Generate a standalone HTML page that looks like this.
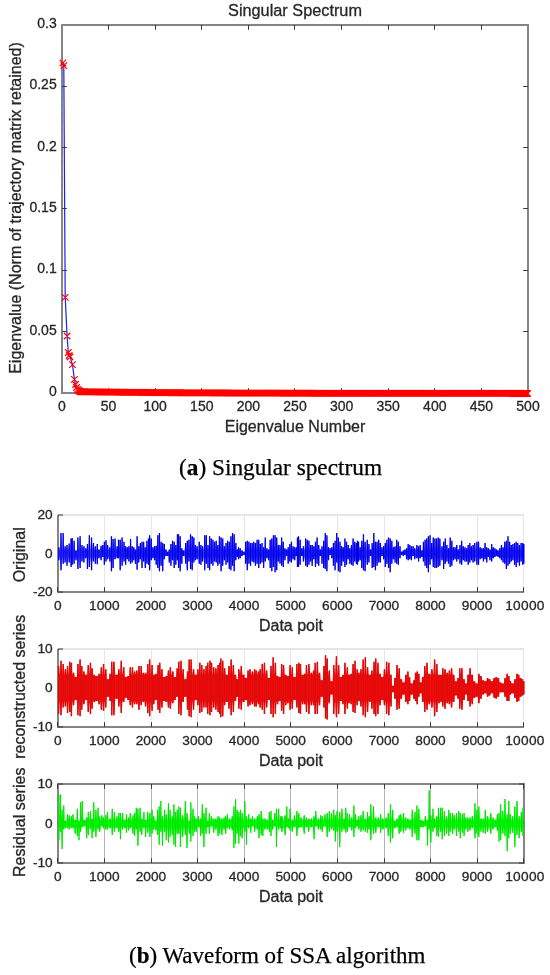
<!DOCTYPE html>
<html><head><meta charset="utf-8"><style>html,body{margin:0;padding:0;background:#fff;}svg{display:block;}text.s{stroke:#2a2a2a;stroke-width:0.3px;}text.c{stroke:#000;stroke-width:0.25px;}</style></head>
<body><svg width="550" height="975" viewBox="0 0 550 975" font-family="'Liberation Sans', Arial, Helvetica, sans-serif"><text x="295" y="15.6" font-size="16.3" text-anchor="middle" fill="#262626" class="s">Singular Spectrum</text>
<rect x="62.0" y="25.0" width="466.0" height="368.0" fill="none" stroke="#858585" stroke-width="2"/>
<text x="62.00" y="410.6" font-size="14" text-anchor="middle" fill="#262626" class="s">0</text>
<text x="108.60" y="410.6" font-size="14" text-anchor="middle" fill="#262626" class="s">50</text>
<text x="155.20" y="410.6" font-size="14" text-anchor="middle" fill="#262626" class="s">100</text>
<text x="201.80" y="410.6" font-size="14" text-anchor="middle" fill="#262626" class="s">150</text>
<text x="248.40" y="410.6" font-size="14" text-anchor="middle" fill="#262626" class="s">200</text>
<text x="295.00" y="410.6" font-size="14" text-anchor="middle" fill="#262626" class="s">250</text>
<text x="341.60" y="410.6" font-size="14" text-anchor="middle" fill="#262626" class="s">300</text>
<text x="388.20" y="410.6" font-size="14" text-anchor="middle" fill="#262626" class="s">350</text>
<text x="434.80" y="410.6" font-size="14" text-anchor="middle" fill="#262626" class="s">400</text>
<text x="481.40" y="410.6" font-size="14" text-anchor="middle" fill="#262626" class="s">450</text>
<text x="528.00" y="410.6" font-size="14" text-anchor="middle" fill="#262626" class="s">500</text>
<text x="56.7" y="396.10" font-size="14" text-anchor="end" fill="#262626" class="s">0</text>
<text x="56.7" y="334.77" font-size="14" text-anchor="end" fill="#262626" class="s">0.05</text>
<text x="56.7" y="273.43" font-size="14" text-anchor="end" fill="#262626" class="s">0.1</text>
<text x="56.7" y="212.10" font-size="14" text-anchor="end" fill="#262626" class="s">0.15</text>
<text x="56.7" y="150.77" font-size="14" text-anchor="end" fill="#262626" class="s">0.2</text>
<text x="56.7" y="89.43" font-size="14" text-anchor="end" fill="#262626" class="s">0.25</text>
<text x="56.7" y="28.10" font-size="14" text-anchor="end" fill="#262626" class="s">0.3</text>
<path d="M108.50,393.0V388.2M108.50,25.0V29.8M155.50,393.0V388.2M155.50,25.0V29.8M201.50,393.0V388.2M201.50,25.0V29.8M248.50,393.0V388.2M248.50,25.0V29.8M294.50,393.0V388.2M294.50,25.0V29.8M341.50,393.0V388.2M341.50,25.0V29.8M388.50,393.0V388.2M388.50,25.0V29.8M434.50,393.0V388.2M434.50,25.0V29.8M481.50,393.0V388.2M481.50,25.0V29.8M62.0,331.50H66.8M528.0,331.50H523.2M62.0,270.50H66.8M528.0,270.50H523.2M62.0,208.50H66.8M528.0,208.50H523.2M62.0,147.50H66.8M528.0,147.50H523.2M62.0,86.50H66.8M528.0,86.50H523.2" stroke="#3a3a3a" stroke-width="1" fill="none"/>
<text x="295" y="431.5" font-size="16.0" text-anchor="middle" fill="#262626" class="s">Eigenvalue Number</text>
<text transform="translate(21.4,208.0) rotate(-90)" x="0" y="0" font-size="16.0" text-anchor="middle" fill="#262626" class="s">Eigenvalue (Norm of trajectory matrix retained)</text>
<path d="M62.90,62.80 L63.80,65.60 L65.20,297.30 L67.10,336.00 L68.30,352.50 L69.20,355.50 L70.00,357.00 L72.50,364.70 L74.40,379.30 L75.50,384.50 L76.50,387.50 L77.40,389.30 L78.40,390.40 L79.30,391.00 L80.20,391.70 L81.13,391.72 L82.07,391.73 L83.00,391.75 L83.94,391.76 L84.87,391.78 L85.80,391.79 L86.74,391.81 L87.67,391.82 L88.61,391.84 L89.54,391.85 L90.47,391.86 L91.41,391.88 L92.34,391.89 L93.28,391.90 L94.21,391.92 L95.14,391.93 L96.08,391.94 L97.01,391.96 L97.95,391.97 L98.88,391.98 L99.81,392.00 L100.75,392.01 L101.68,392.02 L102.62,392.03 L103.55,392.05 L104.48,392.06 L105.42,392.07 L106.35,392.08 L107.29,392.10 L108.22,392.11 L109.15,392.12 L110.09,392.13 L111.02,392.14 L111.96,392.15 L112.89,392.17 L113.82,392.18 L114.76,392.19 L115.69,392.20 L116.63,392.21 L117.56,392.22 L118.49,392.23 L119.43,392.24 L120.36,392.25 L121.30,392.26 L122.23,392.27 L123.16,392.28 L124.10,392.29 L125.03,392.30 L125.97,392.31 L126.90,392.32 L127.83,392.33 L128.77,392.34 L129.70,392.35 L130.64,392.36 L131.57,392.37 L132.50,392.38 L133.44,392.39 L134.37,392.40 L135.31,392.41 L136.24,392.42 L137.17,392.43 L138.11,392.44 L139.04,392.45 L139.98,392.46 L140.91,392.47 L141.84,392.47 L142.78,392.48 L143.71,392.49 L144.65,392.50 L145.58,392.51 L146.51,392.52 L147.45,392.53 L148.38,392.53 L149.32,392.54 L150.25,392.55 L151.18,392.56 L152.12,392.57 L153.05,392.57 L153.99,392.58 L154.92,392.59 L155.85,392.60 L156.79,392.60 L157.72,392.61 L158.66,392.62 L159.59,392.63 L160.52,392.63 L161.46,392.64 L162.39,392.65 L163.33,392.66 L164.26,392.66 L165.19,392.67 L166.13,392.68 L167.06,392.68 L168.00,392.69 L168.93,392.70 L169.86,392.70 L170.80,392.71 L171.73,392.72 L172.67,392.72 L173.60,392.73 L174.53,392.74 L175.47,392.74 L176.40,392.75 L177.34,392.76 L178.27,392.76 L179.20,392.77 L180.14,392.78 L181.07,392.78 L182.01,392.79 L182.94,392.79 L183.87,392.80 L184.81,392.81 L185.74,392.81 L186.68,392.82 L187.61,392.82 L188.54,392.83 L189.48,392.83 L190.41,392.84 L191.35,392.85 L192.28,392.85 L193.21,392.86 L194.15,392.86 L195.08,392.87 L196.02,392.87 L196.95,392.88 L197.88,392.88 L198.82,392.89 L199.75,392.89 L200.69,392.90 L201.62,392.90 L202.55,392.91 L203.49,392.91 L204.42,392.92 L205.36,392.92 L206.29,392.93 L207.22,392.93 L208.16,392.94 L209.09,392.94 L210.03,392.95 L210.96,392.95 L211.89,392.96 L212.83,392.96 L213.76,392.97 L214.70,392.97 L215.63,392.98 L216.56,392.98 L217.50,392.98 L218.43,392.99 L219.37,392.99 L220.30,393.00 L221.23,393.00 L222.17,393.01 L223.10,393.01 L224.04,393.01 L224.97,393.02 L225.90,393.02 L226.84,393.03 L227.77,393.03 L228.71,393.03 L229.64,393.04 L230.57,393.04 L231.51,393.05 L232.44,393.05 L233.38,393.05 L234.31,393.06 L235.24,393.06 L236.18,393.06 L237.11,393.07 L238.05,393.07 L238.98,393.08 L239.91,393.08 L240.85,393.08 L241.78,393.09 L242.72,393.09 L243.65,393.09 L244.58,393.10 L245.52,393.10 L246.45,393.10 L247.39,393.11 L248.32,393.11 L249.25,393.11 L250.19,393.12 L251.12,393.12 L252.06,393.12 L252.99,393.13 L253.92,393.13 L254.86,393.13 L255.79,393.14 L256.73,393.14 L257.66,393.14 L258.59,393.15 L259.53,393.15 L260.46,393.15 L261.40,393.15 L262.33,393.16 L263.26,393.16 L264.20,393.16 L265.13,393.17 L266.07,393.17 L267.00,393.17 L267.93,393.17 L268.87,393.18 L269.80,393.18 L270.74,393.18 L271.67,393.18 L272.60,393.19 L273.54,393.19 L274.47,393.19 L275.41,393.20 L276.34,393.20 L277.27,393.20 L278.21,393.20 L279.14,393.21 L280.08,393.21 L281.01,393.21 L281.94,393.21 L282.88,393.22 L283.81,393.22 L284.75,393.22 L285.68,393.22 L286.61,393.22 L287.55,393.23 L288.48,393.23 L289.42,393.23 L290.35,393.23 L291.28,393.24 L292.22,393.24 L293.15,393.24 L294.09,393.24 L295.02,393.25 L295.95,393.25 L296.89,393.25 L297.82,393.25 L298.76,393.25 L299.69,393.26 L300.62,393.26 L301.56,393.26 L302.49,393.26 L303.43,393.26 L304.36,393.27 L305.29,393.27 L306.23,393.27 L307.16,393.27 L308.10,393.27 L309.03,393.28 L309.96,393.28 L310.90,393.28 L311.83,393.28 L312.77,393.28 L313.70,393.28 L314.63,393.29 L315.57,393.29 L316.50,393.29 L317.44,393.29 L318.37,393.29 L319.30,393.30 L320.24,393.30 L321.17,393.30 L322.11,393.30 L323.04,393.30 L323.97,393.30 L324.91,393.31 L325.84,393.31 L326.78,393.31 L327.71,393.31 L328.64,393.31 L329.58,393.31 L330.51,393.32 L331.45,393.32 L332.38,393.32 L333.31,393.32 L334.25,393.32 L335.18,393.32 L336.12,393.32 L337.05,393.33 L337.98,393.33 L338.92,393.33 L339.85,393.33 L340.79,393.33 L341.72,393.33 L342.65,393.33 L343.59,393.34 L344.52,393.34 L345.46,393.34 L346.39,393.34 L347.32,393.34 L348.26,393.34 L349.19,393.34 L350.13,393.35 L351.06,393.35 L351.99,393.35 L352.93,393.35 L353.86,393.35 L354.80,393.35 L355.73,393.35 L356.66,393.35 L357.60,393.36 L358.53,393.36 L359.47,393.36 L360.40,393.36 L361.33,393.36 L362.27,393.36 L363.20,393.36 L364.14,393.36 L365.07,393.37 L366.00,393.37 L366.94,393.37 L367.87,393.37 L368.81,393.37 L369.74,393.37 L370.67,393.37 L371.61,393.37 L372.54,393.37 L373.48,393.38 L374.41,393.38 L375.34,393.38 L376.28,393.38 L377.21,393.38 L378.15,393.38 L379.08,393.38 L380.01,393.38 L380.95,393.38 L381.88,393.38 L382.82,393.39 L383.75,393.39 L384.68,393.39 L385.62,393.39 L386.55,393.39 L387.49,393.39 L388.42,393.39 L389.35,393.39 L390.29,393.39 L391.22,393.39 L392.16,393.39 L393.09,393.40 L394.02,393.40 L394.96,393.40 L395.89,393.40 L396.83,393.40 L397.76,393.40 L398.69,393.40 L399.63,393.40 L400.56,393.40 L401.50,393.40 L402.43,393.40 L403.36,393.40 L404.30,393.41 L405.23,393.41 L406.17,393.41 L407.10,393.41 L408.03,393.41 L408.97,393.41 L409.90,393.41 L410.84,393.41 L411.77,393.41 L412.70,393.41 L413.64,393.41 L414.57,393.41 L415.51,393.41 L416.44,393.42 L417.37,393.42 L418.31,393.42 L419.24,393.42 L420.18,393.42 L421.11,393.42 L422.04,393.42 L422.98,393.42 L423.91,393.42 L424.85,393.42 L425.78,393.42 L426.71,393.42 L427.65,393.42 L428.58,393.42 L429.52,393.42 L430.45,393.43 L431.38,393.43 L432.32,393.43 L433.25,393.43 L434.19,393.43 L435.12,393.43 L436.05,393.43 L436.99,393.43 L437.92,393.43 L438.86,393.43 L439.79,393.43 L440.72,393.43 L441.66,393.43 L442.59,393.43 L443.53,393.43 L444.46,393.43 L445.39,393.44 L446.33,393.44 L447.26,393.44 L448.20,393.44 L449.13,393.44 L450.06,393.44 L451.00,393.44 L451.93,393.44 L452.87,393.44 L453.80,393.44 L454.73,393.44 L455.67,393.44 L456.60,393.44 L457.54,393.44 L458.47,393.44 L459.40,393.44 L460.34,393.44 L461.27,393.44 L462.21,393.44 L463.14,393.44 L464.07,393.45 L465.01,393.45 L465.94,393.45 L466.88,393.45 L467.81,393.45 L468.74,393.45 L469.68,393.45 L470.61,393.45 L471.55,393.45 L472.48,393.45 L473.41,393.45 L474.35,393.45 L475.28,393.45 L476.22,393.45 L477.15,393.45 L478.08,393.45 L479.02,393.45 L479.95,393.45 L480.89,393.45 L481.82,393.45 L482.75,393.45 L483.69,393.45 L484.62,393.45 L485.56,393.45 L486.49,393.46 L487.42,393.46 L488.36,393.46 L489.29,393.46 L490.23,393.46 L491.16,393.46 L492.09,393.46 L493.03,393.46 L493.96,393.46 L494.90,393.46 L495.83,393.46 L496.76,393.46 L497.70,393.46 L498.63,393.46 L499.57,393.46 L500.50,393.46 L501.43,393.46 L502.37,393.46 L503.30,393.46 L504.24,393.46 L505.17,393.46 L506.10,393.46 L507.04,393.46 L507.97,393.46 L508.91,393.46 L509.84,393.46 L510.77,393.46 L511.71,393.46 L512.64,393.46 L513.58,393.47 L514.51,393.47 L515.44,393.47 L516.38,393.47 L517.31,393.47 L518.25,393.47 L519.18,393.47 L520.11,393.47 L521.05,393.47 L521.98,393.47 L522.92,393.47 L523.85,393.47 L524.78,393.47 L525.72,393.47 L526.65,393.47 L527.59,393.47" fill="none" stroke="#1e1ef0" stroke-width="1.2"/>
<path d="M59.65,59.55L66.15,66.05M59.65,66.05L66.15,59.55M60.55,62.35L67.05,68.85M60.55,68.85L67.05,62.35M61.95,294.05L68.45,300.55M61.95,300.55L68.45,294.05M63.85,332.75L70.35,339.25M63.85,339.25L70.35,332.75M65.05,349.25L71.55,355.75M65.05,355.75L71.55,349.25M65.95,352.25L72.45,358.75M65.95,358.75L72.45,352.25M66.75,353.75L73.25,360.25M66.75,360.25L73.25,353.75M69.25,361.45L75.75,367.95M69.25,367.95L75.75,361.45M71.15,376.05L77.65,382.55M71.15,382.55L77.65,376.05M72.25,381.25L78.75,387.75M72.25,387.75L78.75,381.25M73.25,384.25L79.75,390.75M73.25,390.75L79.75,384.25M74.15,386.05L80.65,392.55M74.15,392.55L80.65,386.05M75.15,387.15L81.65,393.65M75.15,393.65L81.65,387.15M76.05,387.75L82.55,394.25M76.05,394.25L82.55,387.75M76.95,388.45L83.45,394.95M76.95,394.95L83.45,388.45M77.88,388.47L84.38,394.97M77.88,394.97L84.38,388.47M78.82,388.48L85.32,394.98M78.82,394.98L85.32,388.48M79.75,388.50L86.25,395.00M79.75,395.00L86.25,388.50M80.69,388.51L87.19,395.01M80.69,395.01L87.19,388.51M81.62,388.53L88.12,395.03M81.62,395.03L88.12,388.53M82.55,388.54L89.05,395.04M82.55,395.04L89.05,388.54M83.49,388.56L89.99,395.06M83.49,395.06L89.99,388.56M84.42,388.57L90.92,395.07M84.42,395.07L90.92,388.57M85.36,388.59L91.86,395.09M85.36,395.09L91.86,388.59M86.29,388.60L92.79,395.10M86.29,395.10L92.79,388.60M87.22,388.61L93.72,395.11M87.22,395.11L93.72,388.61M88.16,388.63L94.66,395.13M88.16,395.13L94.66,388.63M89.09,388.64L95.59,395.14M89.09,395.14L95.59,388.64M90.03,388.65L96.53,395.15M90.03,395.15L96.53,388.65M90.96,388.67L97.46,395.17M90.96,395.17L97.46,388.67M91.89,388.68L98.39,395.18M91.89,395.18L98.39,388.68M92.83,388.69L99.33,395.19M92.83,395.19L99.33,388.69M93.76,388.71L100.26,395.21M93.76,395.21L100.26,388.71M94.70,388.72L101.20,395.22M94.70,395.22L101.20,388.72M95.63,388.73L102.13,395.23M95.63,395.23L102.13,388.73M96.56,388.75L103.06,395.25M96.56,395.25L103.06,388.75M97.50,388.76L104.00,395.26M97.50,395.26L104.00,388.76M98.43,388.77L104.93,395.27M98.43,395.27L104.93,388.77M99.37,388.78L105.87,395.28M99.37,395.28L105.87,388.78M100.30,388.80L106.80,395.30M100.30,395.30L106.80,388.80M101.23,388.81L107.73,395.31M101.23,395.31L107.73,388.81M102.17,388.82L108.67,395.32M102.17,395.32L108.67,388.82M103.10,388.83L109.60,395.33M103.10,395.33L109.60,388.83M104.04,388.85L110.54,395.35M104.04,395.35L110.54,388.85M104.97,388.86L111.47,395.36M104.97,395.36L111.47,388.86M105.90,388.87L112.40,395.37M105.90,395.37L112.40,388.87M106.84,388.88L113.34,395.38M106.84,395.38L113.34,388.88M107.77,388.89L114.27,395.39M107.77,395.39L114.27,388.89M108.71,388.90L115.21,395.40M108.71,395.40L115.21,388.90M109.64,388.92L116.14,395.42M109.64,395.42L116.14,388.92M110.57,388.93L117.07,395.43M110.57,395.43L117.07,388.93M111.51,388.94L118.01,395.44M111.51,395.44L118.01,388.94M112.44,388.95L118.94,395.45M112.44,395.45L118.94,388.95M113.38,388.96L119.88,395.46M113.38,395.46L119.88,388.96M114.31,388.97L120.81,395.47M114.31,395.47L120.81,388.97M115.24,388.98L121.74,395.48M115.24,395.48L121.74,388.98M116.18,388.99L122.68,395.49M116.18,395.49L122.68,388.99M117.11,389.00L123.61,395.50M117.11,395.50L123.61,389.00M118.05,389.01L124.55,395.51M118.05,395.51L124.55,389.01M118.98,389.02L125.48,395.52M118.98,395.52L125.48,389.02M119.91,389.03L126.41,395.53M119.91,395.53L126.41,389.03M120.85,389.04L127.35,395.54M120.85,395.54L127.35,389.04M121.78,389.05L128.28,395.55M121.78,395.55L128.28,389.05M122.72,389.06L129.22,395.56M122.72,395.56L129.22,389.06M123.65,389.07L130.15,395.57M123.65,395.57L130.15,389.07M124.58,389.08L131.08,395.58M124.58,395.58L131.08,389.08M125.52,389.09L132.02,395.59M125.52,395.59L132.02,389.09M126.45,389.10L132.95,395.60M126.45,395.60L132.95,389.10M127.39,389.11L133.89,395.61M127.39,395.61L133.89,389.11M128.32,389.12L134.82,395.62M128.32,395.62L134.82,389.12M129.25,389.13L135.75,395.63M129.25,395.63L135.75,389.13M130.19,389.14L136.69,395.64M130.19,395.64L136.69,389.14M131.12,389.15L137.62,395.65M131.12,395.65L137.62,389.15M132.06,389.16L138.56,395.66M132.06,395.66L138.56,389.16M132.99,389.17L139.49,395.67M132.99,395.67L139.49,389.17M133.92,389.18L140.42,395.68M133.92,395.68L140.42,389.18M134.86,389.19L141.36,395.69M134.86,395.69L141.36,389.19M135.79,389.20L142.29,395.70M135.79,395.70L142.29,389.20M136.73,389.21L143.23,395.71M136.73,395.71L143.23,389.21M137.66,389.22L144.16,395.72M137.66,395.72L144.16,389.22M138.59,389.22L145.09,395.72M138.59,395.72L145.09,389.22M139.53,389.23L146.03,395.73M139.53,395.73L146.03,389.23M140.46,389.24L146.96,395.74M140.46,395.74L146.96,389.24M141.40,389.25L147.90,395.75M141.40,395.75L147.90,389.25M142.33,389.26L148.83,395.76M142.33,395.76L148.83,389.26M143.26,389.27L149.76,395.77M143.26,395.77L149.76,389.27M144.20,389.28L150.70,395.78M144.20,395.78L150.70,389.28M145.13,389.28L151.63,395.78M145.13,395.78L151.63,389.28M146.07,389.29L152.57,395.79M146.07,395.79L152.57,389.29M147.00,389.30L153.50,395.80M147.00,395.80L153.50,389.30M147.93,389.31L154.43,395.81M147.93,395.81L154.43,389.31M148.87,389.32L155.37,395.82M148.87,395.82L155.37,389.32M149.80,389.32L156.30,395.82M149.80,395.82L156.30,389.32M150.74,389.33L157.24,395.83M150.74,395.83L157.24,389.33M151.67,389.34L158.17,395.84M151.67,395.84L158.17,389.34M152.60,389.35L159.10,395.85M152.60,395.85L159.10,389.35M153.54,389.35L160.04,395.85M153.54,395.85L160.04,389.35M154.47,389.36L160.97,395.86M154.47,395.86L160.97,389.36M155.41,389.37L161.91,395.87M155.41,395.87L161.91,389.37M156.34,389.38L162.84,395.88M156.34,395.88L162.84,389.38M157.27,389.38L163.77,395.88M157.27,395.88L163.77,389.38M158.21,389.39L164.71,395.89M158.21,395.89L164.71,389.39M159.14,389.40L165.64,395.90M159.14,395.90L165.64,389.40M160.08,389.41L166.58,395.91M160.08,395.91L166.58,389.41M161.01,389.41L167.51,395.91M161.01,395.91L167.51,389.41M161.94,389.42L168.44,395.92M161.94,395.92L168.44,389.42M162.88,389.43L169.38,395.93M162.88,395.93L169.38,389.43M163.81,389.43L170.31,395.93M163.81,395.93L170.31,389.43M164.75,389.44L171.25,395.94M164.75,395.94L171.25,389.44M165.68,389.45L172.18,395.95M165.68,395.95L172.18,389.45M166.61,389.45L173.11,395.95M166.61,395.95L173.11,389.45M167.55,389.46L174.05,395.96M167.55,395.96L174.05,389.46M168.48,389.47L174.98,395.97M168.48,395.97L174.98,389.47M169.42,389.47L175.92,395.97M169.42,395.97L175.92,389.47M170.35,389.48L176.85,395.98M170.35,395.98L176.85,389.48M171.28,389.49L177.78,395.99M171.28,395.99L177.78,389.49M172.22,389.49L178.72,395.99M172.22,395.99L178.72,389.49M173.15,389.50L179.65,396.00M173.15,396.00L179.65,389.50M174.09,389.51L180.59,396.01M174.09,396.01L180.59,389.51M175.02,389.51L181.52,396.01M175.02,396.01L181.52,389.51M175.95,389.52L182.45,396.02M175.95,396.02L182.45,389.52M176.89,389.53L183.39,396.03M176.89,396.03L183.39,389.53M177.82,389.53L184.32,396.03M177.82,396.03L184.32,389.53M178.76,389.54L185.26,396.04M178.76,396.04L185.26,389.54M179.69,389.54L186.19,396.04M179.69,396.04L186.19,389.54M180.62,389.55L187.12,396.05M180.62,396.05L187.12,389.55M181.56,389.56L188.06,396.06M181.56,396.06L188.06,389.56M182.49,389.56L188.99,396.06M182.49,396.06L188.99,389.56M183.43,389.57L189.93,396.07M183.43,396.07L189.93,389.57M184.36,389.57L190.86,396.07M184.36,396.07L190.86,389.57M185.29,389.58L191.79,396.08M185.29,396.08L191.79,389.58M186.23,389.58L192.73,396.08M186.23,396.08L192.73,389.58M187.16,389.59L193.66,396.09M187.16,396.09L193.66,389.59M188.10,389.60L194.60,396.10M188.10,396.10L194.60,389.60M189.03,389.60L195.53,396.10M189.03,396.10L195.53,389.60M189.96,389.61L196.46,396.11M189.96,396.11L196.46,389.61M190.90,389.61L197.40,396.11M190.90,396.11L197.40,389.61M191.83,389.62L198.33,396.12M191.83,396.12L198.33,389.62M192.77,389.62L199.27,396.12M192.77,396.12L199.27,389.62M193.70,389.63L200.20,396.13M193.70,396.13L200.20,389.63M194.63,389.63L201.13,396.13M194.63,396.13L201.13,389.63M195.57,389.64L202.07,396.14M195.57,396.14L202.07,389.64M196.50,389.64L203.00,396.14M196.50,396.14L203.00,389.64M197.44,389.65L203.94,396.15M197.44,396.15L203.94,389.65M198.37,389.65L204.87,396.15M198.37,396.15L204.87,389.65M199.30,389.66L205.80,396.16M199.30,396.16L205.80,389.66M200.24,389.66L206.74,396.16M200.24,396.16L206.74,389.66M201.17,389.67L207.67,396.17M201.17,396.17L207.67,389.67M202.11,389.67L208.61,396.17M202.11,396.17L208.61,389.67M203.04,389.68L209.54,396.18M203.04,396.18L209.54,389.68M203.97,389.68L210.47,396.18M203.97,396.18L210.47,389.68M204.91,389.69L211.41,396.19M204.91,396.19L211.41,389.69M205.84,389.69L212.34,396.19M205.84,396.19L212.34,389.69M206.78,389.70L213.28,396.20M206.78,396.20L213.28,389.70M207.71,389.70L214.21,396.20M207.71,396.20L214.21,389.70M208.64,389.71L215.14,396.21M208.64,396.21L215.14,389.71M209.58,389.71L216.08,396.21M209.58,396.21L216.08,389.71M210.51,389.72L217.01,396.22M210.51,396.22L217.01,389.72M211.45,389.72L217.95,396.22M211.45,396.22L217.95,389.72M212.38,389.73L218.88,396.23M212.38,396.23L218.88,389.73M213.31,389.73L219.81,396.23M213.31,396.23L219.81,389.73M214.25,389.73L220.75,396.23M214.25,396.23L220.75,389.73M215.18,389.74L221.68,396.24M215.18,396.24L221.68,389.74M216.12,389.74L222.62,396.24M216.12,396.24L222.62,389.74M217.05,389.75L223.55,396.25M217.05,396.25L223.55,389.75M217.98,389.75L224.48,396.25M217.98,396.25L224.48,389.75M218.92,389.76L225.42,396.26M218.92,396.26L225.42,389.76M219.85,389.76L226.35,396.26M219.85,396.26L226.35,389.76M220.79,389.76L227.29,396.26M220.79,396.26L227.29,389.76M221.72,389.77L228.22,396.27M221.72,396.27L228.22,389.77M222.65,389.77L229.15,396.27M222.65,396.27L229.15,389.77M223.59,389.78L230.09,396.28M223.59,396.28L230.09,389.78M224.52,389.78L231.02,396.28M224.52,396.28L231.02,389.78M225.46,389.78L231.96,396.28M225.46,396.28L231.96,389.78M226.39,389.79L232.89,396.29M226.39,396.29L232.89,389.79M227.32,389.79L233.82,396.29M227.32,396.29L233.82,389.79M228.26,389.80L234.76,396.30M228.26,396.30L234.76,389.80M229.19,389.80L235.69,396.30M229.19,396.30L235.69,389.80M230.13,389.80L236.63,396.30M230.13,396.30L236.63,389.80M231.06,389.81L237.56,396.31M231.06,396.31L237.56,389.81M231.99,389.81L238.49,396.31M231.99,396.31L238.49,389.81M232.93,389.81L239.43,396.31M232.93,396.31L239.43,389.81M233.86,389.82L240.36,396.32M233.86,396.32L240.36,389.82M234.80,389.82L241.30,396.32M234.80,396.32L241.30,389.82M235.73,389.83L242.23,396.33M235.73,396.33L242.23,389.83M236.66,389.83L243.16,396.33M236.66,396.33L243.16,389.83M237.60,389.83L244.10,396.33M237.60,396.33L244.10,389.83M238.53,389.84L245.03,396.34M238.53,396.34L245.03,389.84M239.47,389.84L245.97,396.34M239.47,396.34L245.97,389.84M240.40,389.84L246.90,396.34M240.40,396.34L246.90,389.84M241.33,389.85L247.83,396.35M241.33,396.35L247.83,389.85M242.27,389.85L248.77,396.35M242.27,396.35L248.77,389.85M243.20,389.85L249.70,396.35M243.20,396.35L249.70,389.85M244.14,389.86L250.64,396.36M244.14,396.36L250.64,389.86M245.07,389.86L251.57,396.36M245.07,396.36L251.57,389.86M246.00,389.86L252.50,396.36M246.00,396.36L252.50,389.86M246.94,389.87L253.44,396.37M246.94,396.37L253.44,389.87M247.87,389.87L254.37,396.37M247.87,396.37L254.37,389.87M248.81,389.87L255.31,396.37M248.81,396.37L255.31,389.87M249.74,389.88L256.24,396.38M249.74,396.38L256.24,389.88M250.67,389.88L257.17,396.38M250.67,396.38L257.17,389.88M251.61,389.88L258.11,396.38M251.61,396.38L258.11,389.88M252.54,389.89L259.04,396.39M252.54,396.39L259.04,389.89M253.48,389.89L259.98,396.39M253.48,396.39L259.98,389.89M254.41,389.89L260.91,396.39M254.41,396.39L260.91,389.89M255.34,389.90L261.84,396.40M255.34,396.40L261.84,389.90M256.28,389.90L262.78,396.40M256.28,396.40L262.78,389.90M257.21,389.90L263.71,396.40M257.21,396.40L263.71,389.90M258.15,389.90L264.65,396.40M258.15,396.40L264.65,389.90M259.08,389.91L265.58,396.41M259.08,396.41L265.58,389.91M260.01,389.91L266.51,396.41M260.01,396.41L266.51,389.91M260.95,389.91L267.45,396.41M260.95,396.41L267.45,389.91M261.88,389.92L268.38,396.42M261.88,396.42L268.38,389.92M262.82,389.92L269.32,396.42M262.82,396.42L269.32,389.92M263.75,389.92L270.25,396.42M263.75,396.42L270.25,389.92M264.68,389.92L271.18,396.42M264.68,396.42L271.18,389.92M265.62,389.93L272.12,396.43M265.62,396.43L272.12,389.93M266.55,389.93L273.05,396.43M266.55,396.43L273.05,389.93M267.49,389.93L273.99,396.43M267.49,396.43L273.99,389.93M268.42,389.93L274.92,396.43M268.42,396.43L274.92,389.93M269.35,389.94L275.85,396.44M269.35,396.44L275.85,389.94M270.29,389.94L276.79,396.44M270.29,396.44L276.79,389.94M271.22,389.94L277.72,396.44M271.22,396.44L277.72,389.94M272.16,389.95L278.66,396.45M272.16,396.45L278.66,389.95M273.09,389.95L279.59,396.45M273.09,396.45L279.59,389.95M274.02,389.95L280.52,396.45M274.02,396.45L280.52,389.95M274.96,389.95L281.46,396.45M274.96,396.45L281.46,389.95M275.89,389.96L282.39,396.46M275.89,396.46L282.39,389.96M276.83,389.96L283.33,396.46M276.83,396.46L283.33,389.96M277.76,389.96L284.26,396.46M277.76,396.46L284.26,389.96M278.69,389.96L285.19,396.46M278.69,396.46L285.19,389.96M279.63,389.97L286.13,396.47M279.63,396.47L286.13,389.97M280.56,389.97L287.06,396.47M280.56,396.47L287.06,389.97M281.50,389.97L288.00,396.47M281.50,396.47L288.00,389.97M282.43,389.97L288.93,396.47M282.43,396.47L288.93,389.97M283.36,389.97L289.86,396.47M283.36,396.47L289.86,389.97M284.30,389.98L290.80,396.48M284.30,396.48L290.80,389.98M285.23,389.98L291.73,396.48M285.23,396.48L291.73,389.98M286.17,389.98L292.67,396.48M286.17,396.48L292.67,389.98M287.10,389.98L293.60,396.48M287.10,396.48L293.60,389.98M288.03,389.99L294.53,396.49M288.03,396.49L294.53,389.99M288.97,389.99L295.47,396.49M288.97,396.49L295.47,389.99M289.90,389.99L296.40,396.49M289.90,396.49L296.40,389.99M290.84,389.99L297.34,396.49M290.84,396.49L297.34,389.99M291.77,390.00L298.27,396.50M291.77,396.50L298.27,390.00M292.70,390.00L299.20,396.50M292.70,396.50L299.20,390.00M293.64,390.00L300.14,396.50M293.64,396.50L300.14,390.00M294.57,390.00L301.07,396.50M294.57,396.50L301.07,390.00M295.51,390.00L302.01,396.50M295.51,396.50L302.01,390.00M296.44,390.01L302.94,396.51M296.44,396.51L302.94,390.01M297.37,390.01L303.87,396.51M297.37,396.51L303.87,390.01M298.31,390.01L304.81,396.51M298.31,396.51L304.81,390.01M299.24,390.01L305.74,396.51M299.24,396.51L305.74,390.01M300.18,390.01L306.68,396.51M300.18,396.51L306.68,390.01M301.11,390.02L307.61,396.52M301.11,396.52L307.61,390.02M302.04,390.02L308.54,396.52M302.04,396.52L308.54,390.02M302.98,390.02L309.48,396.52M302.98,396.52L309.48,390.02M303.91,390.02L310.41,396.52M303.91,396.52L310.41,390.02M304.85,390.02L311.35,396.52M304.85,396.52L311.35,390.02M305.78,390.03L312.28,396.53M305.78,396.53L312.28,390.03M306.71,390.03L313.21,396.53M306.71,396.53L313.21,390.03M307.65,390.03L314.15,396.53M307.65,396.53L314.15,390.03M308.58,390.03L315.08,396.53M308.58,396.53L315.08,390.03M309.52,390.03L316.02,396.53M309.52,396.53L316.02,390.03M310.45,390.03L316.95,396.53M310.45,396.53L316.95,390.03M311.38,390.04L317.88,396.54M311.38,396.54L317.88,390.04M312.32,390.04L318.82,396.54M312.32,396.54L318.82,390.04M313.25,390.04L319.75,396.54M313.25,396.54L319.75,390.04M314.19,390.04L320.69,396.54M314.19,396.54L320.69,390.04M315.12,390.04L321.62,396.54M315.12,396.54L321.62,390.04M316.05,390.05L322.55,396.55M316.05,396.55L322.55,390.05M316.99,390.05L323.49,396.55M316.99,396.55L323.49,390.05M317.92,390.05L324.42,396.55M317.92,396.55L324.42,390.05M318.86,390.05L325.36,396.55M318.86,396.55L325.36,390.05M319.79,390.05L326.29,396.55M319.79,396.55L326.29,390.05M320.72,390.05L327.22,396.55M320.72,396.55L327.22,390.05M321.66,390.06L328.16,396.56M321.66,396.56L328.16,390.06M322.59,390.06L329.09,396.56M322.59,396.56L329.09,390.06M323.53,390.06L330.03,396.56M323.53,396.56L330.03,390.06M324.46,390.06L330.96,396.56M324.46,396.56L330.96,390.06M325.39,390.06L331.89,396.56M325.39,396.56L331.89,390.06M326.33,390.06L332.83,396.56M326.33,396.56L332.83,390.06M327.26,390.07L333.76,396.57M327.26,396.57L333.76,390.07M328.20,390.07L334.70,396.57M328.20,396.57L334.70,390.07M329.13,390.07L335.63,396.57M329.13,396.57L335.63,390.07M330.06,390.07L336.56,396.57M330.06,396.57L336.56,390.07M331.00,390.07L337.50,396.57M331.00,396.57L337.50,390.07M331.93,390.07L338.43,396.57M331.93,396.57L338.43,390.07M332.87,390.07L339.37,396.57M332.87,396.57L339.37,390.07M333.80,390.08L340.30,396.58M333.80,396.58L340.30,390.08M334.73,390.08L341.23,396.58M334.73,396.58L341.23,390.08M335.67,390.08L342.17,396.58M335.67,396.58L342.17,390.08M336.60,390.08L343.10,396.58M336.60,396.58L343.10,390.08M337.54,390.08L344.04,396.58M337.54,396.58L344.04,390.08M338.47,390.08L344.97,396.58M338.47,396.58L344.97,390.08M339.40,390.08L345.90,396.58M339.40,396.58L345.90,390.08M340.34,390.09L346.84,396.59M340.34,396.59L346.84,390.09M341.27,390.09L347.77,396.59M341.27,396.59L347.77,390.09M342.21,390.09L348.71,396.59M342.21,396.59L348.71,390.09M343.14,390.09L349.64,396.59M343.14,396.59L349.64,390.09M344.07,390.09L350.57,396.59M344.07,396.59L350.57,390.09M345.01,390.09L351.51,396.59M345.01,396.59L351.51,390.09M345.94,390.09L352.44,396.59M345.94,396.59L352.44,390.09M346.88,390.10L353.38,396.60M346.88,396.60L353.38,390.10M347.81,390.10L354.31,396.60M347.81,396.60L354.31,390.10M348.74,390.10L355.24,396.60M348.74,396.60L355.24,390.10M349.68,390.10L356.18,396.60M349.68,396.60L356.18,390.10M350.61,390.10L357.11,396.60M350.61,396.60L357.11,390.10M351.55,390.10L358.05,396.60M351.55,396.60L358.05,390.10M352.48,390.10L358.98,396.60M352.48,396.60L358.98,390.10M353.41,390.10L359.91,396.60M353.41,396.60L359.91,390.10M354.35,390.11L360.85,396.61M354.35,396.61L360.85,390.11M355.28,390.11L361.78,396.61M355.28,396.61L361.78,390.11M356.22,390.11L362.72,396.61M356.22,396.61L362.72,390.11M357.15,390.11L363.65,396.61M357.15,396.61L363.65,390.11M358.08,390.11L364.58,396.61M358.08,396.61L364.58,390.11M359.02,390.11L365.52,396.61M359.02,396.61L365.52,390.11M359.95,390.11L366.45,396.61M359.95,396.61L366.45,390.11M360.89,390.11L367.39,396.61M360.89,396.61L367.39,390.11M361.82,390.12L368.32,396.62M361.82,396.62L368.32,390.12M362.75,390.12L369.25,396.62M362.75,396.62L369.25,390.12M363.69,390.12L370.19,396.62M363.69,396.62L370.19,390.12M364.62,390.12L371.12,396.62M364.62,396.62L371.12,390.12M365.56,390.12L372.06,396.62M365.56,396.62L372.06,390.12M366.49,390.12L372.99,396.62M366.49,396.62L372.99,390.12M367.42,390.12L373.92,396.62M367.42,396.62L373.92,390.12M368.36,390.12L374.86,396.62M368.36,396.62L374.86,390.12M369.29,390.12L375.79,396.62M369.29,396.62L375.79,390.12M370.23,390.13L376.73,396.63M370.23,396.63L376.73,390.13M371.16,390.13L377.66,396.63M371.16,396.63L377.66,390.13M372.09,390.13L378.59,396.63M372.09,396.63L378.59,390.13M373.03,390.13L379.53,396.63M373.03,396.63L379.53,390.13M373.96,390.13L380.46,396.63M373.96,396.63L380.46,390.13M374.90,390.13L381.40,396.63M374.90,396.63L381.40,390.13M375.83,390.13L382.33,396.63M375.83,396.63L382.33,390.13M376.76,390.13L383.26,396.63M376.76,396.63L383.26,390.13M377.70,390.13L384.20,396.63M377.70,396.63L384.20,390.13M378.63,390.13L385.13,396.63M378.63,396.63L385.13,390.13M379.57,390.14L386.07,396.64M379.57,396.64L386.07,390.14M380.50,390.14L387.00,396.64M380.50,396.64L387.00,390.14M381.43,390.14L387.93,396.64M381.43,396.64L387.93,390.14M382.37,390.14L388.87,396.64M382.37,396.64L388.87,390.14M383.30,390.14L389.80,396.64M383.30,396.64L389.80,390.14M384.24,390.14L390.74,396.64M384.24,396.64L390.74,390.14M385.17,390.14L391.67,396.64M385.17,396.64L391.67,390.14M386.10,390.14L392.60,396.64M386.10,396.64L392.60,390.14M387.04,390.14L393.54,396.64M387.04,396.64L393.54,390.14M387.97,390.14L394.47,396.64M387.97,396.64L394.47,390.14M388.91,390.14L395.41,396.64M388.91,396.64L395.41,390.14M389.84,390.15L396.34,396.65M389.84,396.65L396.34,390.15M390.77,390.15L397.27,396.65M390.77,396.65L397.27,390.15M391.71,390.15L398.21,396.65M391.71,396.65L398.21,390.15M392.64,390.15L399.14,396.65M392.64,396.65L399.14,390.15M393.58,390.15L400.08,396.65M393.58,396.65L400.08,390.15M394.51,390.15L401.01,396.65M394.51,396.65L401.01,390.15M395.44,390.15L401.94,396.65M395.44,396.65L401.94,390.15M396.38,390.15L402.88,396.65M396.38,396.65L402.88,390.15M397.31,390.15L403.81,396.65M397.31,396.65L403.81,390.15M398.25,390.15L404.75,396.65M398.25,396.65L404.75,390.15M399.18,390.15L405.68,396.65M399.18,396.65L405.68,390.15M400.11,390.15L406.61,396.65M400.11,396.65L406.61,390.15M401.05,390.16L407.55,396.66M401.05,396.66L407.55,390.16M401.98,390.16L408.48,396.66M401.98,396.66L408.48,390.16M402.92,390.16L409.42,396.66M402.92,396.66L409.42,390.16M403.85,390.16L410.35,396.66M403.85,396.66L410.35,390.16M404.78,390.16L411.28,396.66M404.78,396.66L411.28,390.16M405.72,390.16L412.22,396.66M405.72,396.66L412.22,390.16M406.65,390.16L413.15,396.66M406.65,396.66L413.15,390.16M407.59,390.16L414.09,396.66M407.59,396.66L414.09,390.16M408.52,390.16L415.02,396.66M408.52,396.66L415.02,390.16M409.45,390.16L415.95,396.66M409.45,396.66L415.95,390.16M410.39,390.16L416.89,396.66M410.39,396.66L416.89,390.16M411.32,390.16L417.82,396.66M411.32,396.66L417.82,390.16M412.26,390.16L418.76,396.66M412.26,396.66L418.76,390.16M413.19,390.17L419.69,396.67M413.19,396.67L419.69,390.17M414.12,390.17L420.62,396.67M414.12,396.67L420.62,390.17M415.06,390.17L421.56,396.67M415.06,396.67L421.56,390.17M415.99,390.17L422.49,396.67M415.99,396.67L422.49,390.17M416.93,390.17L423.43,396.67M416.93,396.67L423.43,390.17M417.86,390.17L424.36,396.67M417.86,396.67L424.36,390.17M418.79,390.17L425.29,396.67M418.79,396.67L425.29,390.17M419.73,390.17L426.23,396.67M419.73,396.67L426.23,390.17M420.66,390.17L427.16,396.67M420.66,396.67L427.16,390.17M421.60,390.17L428.10,396.67M421.60,396.67L428.10,390.17M422.53,390.17L429.03,396.67M422.53,396.67L429.03,390.17M423.46,390.17L429.96,396.67M423.46,396.67L429.96,390.17M424.40,390.17L430.90,396.67M424.40,396.67L430.90,390.17M425.33,390.17L431.83,396.67M425.33,396.67L431.83,390.17M426.27,390.17L432.77,396.67M426.27,396.67L432.77,390.17M427.20,390.18L433.70,396.68M427.20,396.68L433.70,390.18M428.13,390.18L434.63,396.68M428.13,396.68L434.63,390.18M429.07,390.18L435.57,396.68M429.07,396.68L435.57,390.18M430.00,390.18L436.50,396.68M430.00,396.68L436.50,390.18M430.94,390.18L437.44,396.68M430.94,396.68L437.44,390.18M431.87,390.18L438.37,396.68M431.87,396.68L438.37,390.18M432.80,390.18L439.30,396.68M432.80,396.68L439.30,390.18M433.74,390.18L440.24,396.68M433.74,396.68L440.24,390.18M434.67,390.18L441.17,396.68M434.67,396.68L441.17,390.18M435.61,390.18L442.11,396.68M435.61,396.68L442.11,390.18M436.54,390.18L443.04,396.68M436.54,396.68L443.04,390.18M437.47,390.18L443.97,396.68M437.47,396.68L443.97,390.18M438.41,390.18L444.91,396.68M438.41,396.68L444.91,390.18M439.34,390.18L445.84,396.68M439.34,396.68L445.84,390.18M440.28,390.18L446.78,396.68M440.28,396.68L446.78,390.18M441.21,390.18L447.71,396.68M441.21,396.68L447.71,390.18M442.14,390.19L448.64,396.69M442.14,396.69L448.64,390.19M443.08,390.19L449.58,396.69M443.08,396.69L449.58,390.19M444.01,390.19L450.51,396.69M444.01,396.69L450.51,390.19M444.95,390.19L451.45,396.69M444.95,396.69L451.45,390.19M445.88,390.19L452.38,396.69M445.88,396.69L452.38,390.19M446.81,390.19L453.31,396.69M446.81,396.69L453.31,390.19M447.75,390.19L454.25,396.69M447.75,396.69L454.25,390.19M448.68,390.19L455.18,396.69M448.68,396.69L455.18,390.19M449.62,390.19L456.12,396.69M449.62,396.69L456.12,390.19M450.55,390.19L457.05,396.69M450.55,396.69L457.05,390.19M451.48,390.19L457.98,396.69M451.48,396.69L457.98,390.19M452.42,390.19L458.92,396.69M452.42,396.69L458.92,390.19M453.35,390.19L459.85,396.69M453.35,396.69L459.85,390.19M454.29,390.19L460.79,396.69M454.29,396.69L460.79,390.19M455.22,390.19L461.72,396.69M455.22,396.69L461.72,390.19M456.15,390.19L462.65,396.69M456.15,396.69L462.65,390.19M457.09,390.19L463.59,396.69M457.09,396.69L463.59,390.19M458.02,390.19L464.52,396.69M458.02,396.69L464.52,390.19M458.96,390.19L465.46,396.69M458.96,396.69L465.46,390.19M459.89,390.19L466.39,396.69M459.89,396.69L466.39,390.19M460.82,390.20L467.32,396.70M460.82,396.70L467.32,390.20M461.76,390.20L468.26,396.70M461.76,396.70L468.26,390.20M462.69,390.20L469.19,396.70M462.69,396.70L469.19,390.20M463.63,390.20L470.13,396.70M463.63,396.70L470.13,390.20M464.56,390.20L471.06,396.70M464.56,396.70L471.06,390.20M465.49,390.20L471.99,396.70M465.49,396.70L471.99,390.20M466.43,390.20L472.93,396.70M466.43,396.70L472.93,390.20M467.36,390.20L473.86,396.70M467.36,396.70L473.86,390.20M468.30,390.20L474.80,396.70M468.30,396.70L474.80,390.20M469.23,390.20L475.73,396.70M469.23,396.70L475.73,390.20M470.16,390.20L476.66,396.70M470.16,396.70L476.66,390.20M471.10,390.20L477.60,396.70M471.10,396.70L477.60,390.20M472.03,390.20L478.53,396.70M472.03,396.70L478.53,390.20M472.97,390.20L479.47,396.70M472.97,396.70L479.47,390.20M473.90,390.20L480.40,396.70M473.90,396.70L480.40,390.20M474.83,390.20L481.33,396.70M474.83,396.70L481.33,390.20M475.77,390.20L482.27,396.70M475.77,396.70L482.27,390.20M476.70,390.20L483.20,396.70M476.70,396.70L483.20,390.20M477.64,390.20L484.14,396.70M477.64,396.70L484.14,390.20M478.57,390.20L485.07,396.70M478.57,396.70L485.07,390.20M479.50,390.20L486.00,396.70M479.50,396.70L486.00,390.20M480.44,390.20L486.94,396.70M480.44,396.70L486.94,390.20M481.37,390.20L487.87,396.70M481.37,396.70L487.87,390.20M482.31,390.20L488.81,396.70M482.31,396.70L488.81,390.20M483.24,390.21L489.74,396.71M483.24,396.71L489.74,390.21M484.17,390.21L490.67,396.71M484.17,396.71L490.67,390.21M485.11,390.21L491.61,396.71M485.11,396.71L491.61,390.21M486.04,390.21L492.54,396.71M486.04,396.71L492.54,390.21M486.98,390.21L493.48,396.71M486.98,396.71L493.48,390.21M487.91,390.21L494.41,396.71M487.91,396.71L494.41,390.21M488.84,390.21L495.34,396.71M488.84,396.71L495.34,390.21M489.78,390.21L496.28,396.71M489.78,396.71L496.28,390.21M490.71,390.21L497.21,396.71M490.71,396.71L497.21,390.21M491.65,390.21L498.15,396.71M491.65,396.71L498.15,390.21M492.58,390.21L499.08,396.71M492.58,396.71L499.08,390.21M493.51,390.21L500.01,396.71M493.51,396.71L500.01,390.21M494.45,390.21L500.95,396.71M494.45,396.71L500.95,390.21M495.38,390.21L501.88,396.71M495.38,396.71L501.88,390.21M496.32,390.21L502.82,396.71M496.32,396.71L502.82,390.21M497.25,390.21L503.75,396.71M497.25,396.71L503.75,390.21M498.18,390.21L504.68,396.71M498.18,396.71L504.68,390.21M499.12,390.21L505.62,396.71M499.12,396.71L505.62,390.21M500.05,390.21L506.55,396.71M500.05,396.71L506.55,390.21M500.99,390.21L507.49,396.71M500.99,396.71L507.49,390.21M501.92,390.21L508.42,396.71M501.92,396.71L508.42,390.21M502.85,390.21L509.35,396.71M502.85,396.71L509.35,390.21M503.79,390.21L510.29,396.71M503.79,396.71L510.29,390.21M504.72,390.21L511.22,396.71M504.72,396.71L511.22,390.21M505.66,390.21L512.16,396.71M505.66,396.71L512.16,390.21M506.59,390.21L513.09,396.71M506.59,396.71L513.09,390.21M507.52,390.21L514.02,396.71M507.52,396.71L514.02,390.21M508.46,390.21L514.96,396.71M508.46,396.71L514.96,390.21M509.39,390.21L515.89,396.71M509.39,396.71L515.89,390.21M510.33,390.22L516.83,396.72M510.33,396.72L516.83,390.22M511.26,390.22L517.76,396.72M511.26,396.72L517.76,390.22M512.19,390.22L518.69,396.72M512.19,396.72L518.69,390.22M513.13,390.22L519.63,396.72M513.13,396.72L519.63,390.22M514.06,390.22L520.56,396.72M514.06,396.72L520.56,390.22M515.00,390.22L521.50,396.72M515.00,396.72L521.50,390.22M515.93,390.22L522.43,396.72M515.93,396.72L522.43,390.22M516.86,390.22L523.36,396.72M516.86,396.72L523.36,390.22M517.80,390.22L524.30,396.72M517.80,396.72L524.30,390.22M518.73,390.22L525.23,396.72M518.73,396.72L525.23,390.22M519.67,390.22L526.17,396.72M519.67,396.72L526.17,390.22M520.60,390.22L527.10,396.72M520.60,396.72L527.10,390.22M521.53,390.22L528.03,396.72M521.53,396.72L528.03,390.22M522.47,390.22L528.97,396.72M522.47,396.72L528.97,390.22M523.40,390.22L529.90,396.72M523.40,396.72L529.90,390.22M524.34,390.22L530.84,396.72M524.34,396.72L530.84,390.22" fill="none" stroke="#ff0000" stroke-width="1.15"/>
<text x="179" y="474.5" font-family="'Liberation Serif', 'Times New Roman', serif" font-size="23.5" fill="#000" class="c" textLength="203" lengthAdjust="spacingAndGlyphs">(<tspan font-weight="bold">a</tspan>) Singular spectrum</text>
<path d="M104.50,515.0V592.0M151.50,515.0V592.0M197.50,515.0V592.0M244.50,515.0V592.0M290.50,515.0V592.0M337.50,515.0V592.0M384.50,515.0V592.0M430.50,515.0V592.0M477.50,515.0V592.0M523.50,515.0V592.0" stroke="#e6e6e6" stroke-width="1" fill="none"/>
<path d="M58.0,515.0H524.0" stroke="#e6e6e6" stroke-width="2" fill="none"/>
<path d="M58.0,515.0V592.0H524.0" stroke="#858585" stroke-width="2" fill="none"/>
<text x="57.70" y="610.20" font-size="13.7" text-anchor="middle" fill="#262626" class="s">0</text>
<text x="104.30" y="610.20" font-size="13.7" text-anchor="middle" fill="#262626" class="s">1000</text>
<text x="150.90" y="610.20" font-size="13.7" text-anchor="middle" fill="#262626" class="s">2000</text>
<text x="197.50" y="610.20" font-size="13.7" text-anchor="middle" fill="#262626" class="s">3000</text>
<text x="244.10" y="610.20" font-size="13.7" text-anchor="middle" fill="#262626" class="s">4000</text>
<text x="290.70" y="610.20" font-size="13.7" text-anchor="middle" fill="#262626" class="s">5000</text>
<text x="337.30" y="610.20" font-size="13.7" text-anchor="middle" fill="#262626" class="s">6000</text>
<text x="383.90" y="610.20" font-size="13.7" text-anchor="middle" fill="#262626" class="s">7000</text>
<text x="430.50" y="610.20" font-size="13.7" text-anchor="middle" fill="#262626" class="s">8000</text>
<text x="477.10" y="610.20" font-size="13.7" text-anchor="middle" fill="#262626" class="s">9000</text>
<text x="505.2" y="610.20" font-size="13.7" fill="#262626" class="s" textLength="39.2" lengthAdjust="spacing">10000</text>
<text x="52.70" y="519.00" font-size="13.7" text-anchor="end" fill="#262626" class="s">20</text>
<text x="52.70" y="557.50" font-size="13.7" text-anchor="end" fill="#262626" class="s">0</text>
<text x="52.70" y="596.00" font-size="13.7" text-anchor="end" fill="#262626" class="s">-20</text>
<path d="M57.50,592.0V587.2M104.50,592.0V587.2M151.50,592.0V587.2M197.50,592.0V587.2M244.50,592.0V587.2M290.50,592.0V587.2M337.50,592.0V587.2M384.50,592.0V587.2M430.50,592.0V587.2M477.50,592.0V587.2M523.50,592.0V587.2M58.0,515.00H63.0M58.0,553.50H63.0M58.0,592.00H63.0" stroke="#3a3a3a" stroke-width="1" fill="none"/>
<path d="M58.60,547.27 L59.12,547.27 L59.91,550.50 L60.70,533.09 L61.30,533.09 L62.09,550.50 L62.88,533.09 L63.48,533.09 L64.14,550.50 L64.79,546.18 L65.39,546.18 L66.05,550.50 L66.70,545.09 L67.30,545.09 L68.09,550.50 L68.88,543.45 L69.48,543.45 L70.14,550.50 L70.79,538.55 L71.39,538.55 L71.64,550.50 L71.88,538.00 L72.48,538.00 L73.14,550.50 L73.79,540.73 L74.39,540.73 L75.05,550.55 L75.70,550.55 L76.30,550.55 L76.95,550.55 L77.61,537.45 L78.21,537.45 L79.00,550.50 L79.79,536.36 L80.39,536.36 L81.05,550.50 L81.70,545.09 L82.30,545.09 L82.95,550.50 L83.61,546.18 L84.21,546.18 L84.86,550.50 L85.52,548.36 L86.12,548.36 L86.64,550.50 L87.15,544.00 L87.75,544.00 L88.41,550.50 L89.06,535.27 L89.66,535.27 L90.45,550.50 L91.25,537.45 L91.85,537.45 L92.50,550.50 L93.15,542.91 L93.75,542.91 L94.41,550.50 L95.06,546.18 L95.66,546.18 L96.32,550.50 L96.97,544.00 L97.57,544.00 L98.09,550.50 L98.61,549.45 L99.21,549.45 L100.00,550.50 L100.79,545.64 L101.39,545.64 L101.91,550.50 L102.43,545.09 L103.03,545.09 L103.55,550.50 L104.06,541.82 L104.66,541.82 L105.18,550.50 L105.70,540.18 L106.30,540.18 L106.82,550.50 L107.34,545.09 L107.94,545.09 L108.73,550.50 L109.52,547.27 L110.12,547.27 L110.64,550.50 L111.15,536.36 L111.75,536.36 L112.27,550.50 L112.79,539.09 L113.39,539.09 L114.05,550.50 L114.70,538.55 L115.30,538.55 L116.09,550.50 L116.88,546.18 L117.48,546.18 L117.86,550.50 L118.25,539.64 L118.85,539.64 L119.36,550.50 L119.88,539.64 L120.48,539.64 L121.14,550.50 L121.79,537.45 L122.39,537.45 L123.05,550.50 L123.70,541.82 L124.30,541.82 L124.82,550.50 L125.34,546.18 L125.94,546.18 L126.45,550.50 L126.97,547.27 L127.57,547.27 L128.09,550.50 L128.61,546.18 L129.21,546.18 L129.73,550.50 L130.25,539.09 L130.85,539.09 L131.36,550.50 L131.88,546.18 L132.48,546.18 L133.00,550.50 L133.52,547.27 L134.12,547.27 L134.64,550.50 L135.15,549.45 L135.75,549.45 L136.27,550.50 L136.79,536.36 L137.39,536.36 L137.91,550.50 L138.43,546.18 L139.03,546.18 L139.55,550.50 L140.06,542.91 L140.66,542.91 L141.18,550.50 L141.70,541.82 L142.30,541.82 L142.82,550.50 L143.34,541.82 L143.94,541.82 L144.45,550.50 L144.97,547.27 L145.57,547.27 L146.09,550.50 L146.61,540.73 L147.21,540.73 L147.73,550.50 L148.25,538.55 L148.85,538.55 L149.09,550.50 L149.34,535.27 L149.94,535.27 L150.45,550.50 L150.97,538.55 L151.57,538.55 L152.09,550.50 L152.61,547.27 L153.21,547.27 L153.73,550.50 L154.25,546.18 L154.85,546.18 L155.36,550.50 L155.88,545.64 L156.48,545.64 L157.00,550.50 L157.52,535.27 L158.12,535.27 L158.64,550.50 L159.15,533.09 L159.75,533.09 L160.27,550.50 L160.79,541.82 L161.39,541.82 L161.91,550.50 L162.43,542.91 L163.03,542.91 L163.55,550.50 L164.06,544.00 L164.66,544.00 L165.18,550.50 L165.70,549.45 L166.30,549.45 L166.82,551.64 L167.34,551.64 L167.94,551.64 L168.45,551.64 L168.97,549.45 L169.57,549.45 L170.09,550.50 L170.61,544.00 L171.21,544.00 L171.73,550.50 L172.25,540.73 L172.85,540.73 L173.36,550.50 L173.88,541.82 L174.48,541.82 L175.00,550.50 L175.52,545.09 L176.12,545.09 L176.64,550.50 L177.15,534.18 L177.75,534.18 L178.00,550.50 L178.25,534.18 L178.85,534.18 L179.36,550.50 L179.88,536.36 L180.48,536.36 L181.00,550.50 L181.52,548.36 L182.12,548.36 L182.64,550.55 L183.15,550.55 L183.75,550.55 L184.55,550.55 L185.34,542.91 L185.94,542.91 L186.45,550.50 L186.97,540.73 L187.57,540.73 L188.09,550.50 L188.61,539.64 L189.21,539.64 L189.73,550.50 L190.25,534.18 L190.85,534.18 L191.36,550.50 L191.88,536.36 L192.48,536.36 L193.00,550.50 L193.52,537.45 L194.12,537.45 L194.64,550.50 L195.15,545.09 L195.75,545.09 L196.27,550.50 L196.79,546.18 L197.39,546.18 L198.18,550.50 L198.97,541.82 L199.57,541.82 L200.09,550.50 L200.61,545.09 L201.21,545.09 L201.73,550.50 L202.25,546.18 L202.85,546.18 L203.64,550.50 L204.43,535.27 L205.03,535.27 L205.55,550.50 L206.06,535.27 L206.66,535.27 L207.18,550.50 L207.70,545.09 L208.30,545.09 L208.82,550.50 L209.34,536.36 L209.94,536.36 L210.45,550.50 L210.97,538.55 L211.57,538.55 L212.09,550.50 L212.61,539.64 L213.21,539.64 L213.73,550.50 L214.25,541.82 L214.85,541.82 L215.36,550.50 L215.88,540.73 L216.48,540.73 L217.00,550.50 L217.52,545.09 L218.12,545.09 L218.64,550.50 L219.15,536.36 L219.75,536.36 L220.27,550.50 L220.79,537.45 L221.39,537.45 L221.91,550.50 L222.43,538.55 L223.03,538.55 L223.55,550.50 L224.06,546.18 L224.66,546.18 L225.18,550.50 L225.70,542.91 L226.30,542.91 L226.82,550.50 L227.34,540.73 L227.94,540.73 L228.45,550.50 L228.97,541.82 L229.57,541.82 L230.09,550.50 L230.61,536.36 L231.21,536.36 L231.73,550.50 L232.25,533.09 L232.85,533.09 L233.36,550.50 L233.88,534.18 L234.48,534.18 L235.00,550.50 L235.52,542.91 L236.12,542.91 L236.64,550.50 L237.15,549.45 L237.75,549.45 L238.00,550.50 L238.25,547.27 L238.85,547.27 L239.36,550.50 L239.88,548.36 L240.48,548.36 L241.14,550.55 L241.79,550.55 L242.39,550.55 L243.05,551.64 L243.70,551.64 L244.30,551.64 L244.82,551.64 L245.34,541.82 L245.94,541.82 L246.45,550.50 L246.97,540.73 L247.57,540.73 L248.09,550.50 L248.61,541.82 L249.21,541.82 L249.73,550.50 L250.25,542.91 L250.85,542.91 L251.36,550.50 L251.88,542.91 L252.48,542.91 L253.00,550.50 L253.52,541.82 L254.12,541.82 L254.64,550.50 L255.15,542.91 L255.75,542.91 L256.27,550.50 L256.79,539.64 L257.39,539.64 L257.91,550.50 L258.43,539.64 L259.03,539.64 L259.55,550.50 L260.06,544.00 L260.66,544.00 L261.18,550.50 L261.70,542.91 L262.30,542.91 L262.82,550.50 L263.34,547.27 L263.94,547.27 L264.45,550.50 L264.97,537.45 L265.57,537.45 L266.09,550.50 L266.61,548.36 L267.21,548.36 L267.73,550.50 L268.25,549.45 L268.85,549.45 L269.36,550.50 L269.88,539.64 L270.48,539.64 L271.00,550.50 L271.52,538.55 L272.12,538.55 L272.64,550.50 L273.15,535.27 L273.75,535.27 L274.27,550.50 L274.79,535.27 L275.39,535.27 L275.91,550.50 L276.43,537.45 L277.03,537.45 L277.55,550.50 L278.06,545.09 L278.66,545.09 L279.18,550.50 L279.70,545.09 L280.30,545.09 L280.82,550.50 L281.34,537.45 L281.94,537.45 L282.45,550.50 L282.97,541.82 L283.57,541.82 L284.09,550.50 L284.61,548.36 L285.21,548.36 L285.73,550.50 L286.25,549.45 L286.85,549.45 L287.36,550.50 L287.88,547.27 L288.48,547.27 L289.00,550.50 L289.52,544.00 L290.12,544.00 L290.64,550.50 L291.15,541.82 L291.75,541.82 L292.27,550.50 L292.79,546.18 L293.39,546.18 L293.91,550.50 L294.43,547.27 L295.03,547.27 L295.55,550.50 L296.06,547.27 L296.66,547.27 L296.91,550.50 L297.15,537.45 L297.75,537.45 L298.00,550.50 L298.25,536.36 L298.85,536.36 L299.36,550.50 L299.88,539.64 L300.48,539.64 L301.00,550.50 L301.52,548.36 L302.12,548.36 L302.64,550.50 L303.15,546.18 L303.75,546.18 L304.55,550.50 L305.34,538.55 L305.94,538.55 L306.45,550.50 L306.97,539.64 L307.57,539.64 L308.09,550.50 L308.61,540.73 L309.21,540.73 L309.73,550.50 L310.25,545.09 L310.85,545.09 L311.36,550.50 L311.88,545.09 L312.48,545.09 L313.00,550.50 L313.52,546.18 L314.12,546.18 L314.64,550.50 L315.15,541.82 L315.75,541.82 L316.27,550.50 L316.79,537.45 L317.39,537.45 L317.91,550.50 L318.43,545.09 L319.03,545.09 L319.55,550.50 L320.06,549.45 L320.66,549.45 L321.18,550.50 L321.70,546.18 L322.30,546.18 L322.82,550.50 L323.34,540.73 L323.94,540.73 L324.45,550.50 L324.97,533.09 L325.57,533.09 L326.09,550.50 L326.61,535.27 L327.21,535.27 L327.73,550.50 L328.25,547.27 L328.85,547.27 L329.36,550.50 L329.88,548.36 L330.48,548.36 L331.00,550.50 L331.52,547.27 L332.12,547.27 L332.64,550.50 L333.15,542.91 L333.75,542.91 L334.27,550.50 L334.79,540.73 L335.39,540.73 L335.91,550.50 L336.43,533.09 L337.03,533.09 L337.55,550.50 L338.06,537.45 L338.66,537.45 L339.18,550.50 L339.70,541.82 L340.30,541.82 L340.82,550.50 L341.34,546.18 L341.94,546.18 L342.45,550.50 L342.97,547.27 L343.57,547.27 L344.09,550.50 L344.61,538.55 L345.21,538.55 L345.73,550.50 L346.25,541.82 L346.85,541.82 L347.36,550.50 L347.88,545.09 L348.48,545.09 L349.00,550.50 L349.52,548.36 L350.12,548.36 L350.64,550.50 L351.15,545.09 L351.75,545.09 L352.27,550.50 L352.79,538.55 L353.39,538.55 L353.91,550.50 L354.43,541.82 L355.03,541.82 L355.55,550.50 L356.06,542.91 L356.66,542.91 L356.91,550.50 L357.15,540.73 L357.75,540.73 L358.00,550.50 L358.25,541.82 L358.85,541.82 L359.36,550.50 L359.88,547.27 L360.48,547.27 L361.00,550.50 L361.52,540.73 L362.12,540.73 L362.64,550.50 L363.15,534.18 L363.75,534.18 L364.27,550.50 L364.79,541.82 L365.39,541.82 L366.18,550.50 L366.97,539.64 L367.57,539.64 L368.09,550.50 L368.61,544.00 L369.21,544.00 L369.73,550.50 L370.25,549.45 L370.85,549.45 L371.36,550.50 L371.88,542.91 L372.48,542.91 L373.00,550.50 L373.52,533.09 L374.12,533.09 L374.64,550.50 L375.15,541.82 L375.75,541.82 L376.27,550.50 L376.79,541.82 L377.39,541.82 L377.91,550.50 L378.43,539.64 L379.03,539.64 L379.55,550.50 L380.06,542.91 L380.66,542.91 L381.18,550.50 L381.70,547.27 L382.30,547.27 L382.82,550.50 L383.34,546.18 L383.94,546.18 L384.45,550.50 L384.97,542.91 L385.57,542.91 L386.09,550.50 L386.61,539.64 L387.21,539.64 L387.73,550.50 L388.25,537.45 L388.85,537.45 L389.36,550.50 L389.88,538.55 L390.48,538.55 L391.00,550.50 L391.52,540.73 L392.12,540.73 L392.64,550.50 L393.15,547.27 L393.75,547.27 L394.27,550.50 L394.79,546.18 L395.39,546.18 L395.91,550.50 L396.43,539.64 L397.03,539.64 L397.55,550.50 L398.06,541.82 L398.66,541.82 L399.18,550.50 L399.70,546.18 L400.30,546.18 L400.82,551.64 L401.34,551.64 L401.94,551.64 L402.45,551.64 L402.97,550.55 L403.57,550.55 L404.09,550.55 L404.61,549.45 L405.21,549.45 L405.73,550.50 L406.25,548.36 L406.85,548.36 L407.36,550.50 L407.88,544.00 L408.48,544.00 L409.00,550.50 L409.52,545.09 L410.12,545.09 L410.64,550.50 L411.15,546.18 L411.75,546.18 L412.27,550.50 L412.79,546.18 L413.39,546.18 L413.91,550.50 L414.43,548.36 L415.03,548.36 L415.82,550.50 L416.61,545.09 L417.21,545.09 L417.73,550.50 L418.25,546.18 L418.85,546.18 L419.36,550.50 L419.88,545.09 L420.48,545.09 L421.00,550.55 L421.52,550.55 L422.12,550.55 L422.64,550.55 L423.15,541.82 L423.75,541.82 L424.27,550.50 L424.79,539.64 L425.39,539.64 L425.91,550.50 L426.43,538.55 L427.03,538.55 L427.55,550.50 L428.06,536.36 L428.66,536.36 L429.18,550.50 L429.70,535.27 L430.30,535.27 L430.82,550.50 L431.34,542.91 L431.94,542.91 L432.45,550.50 L432.97,537.45 L433.57,537.45 L434.09,550.50 L434.61,538.55 L435.21,538.55 L435.73,550.50 L436.25,538.55 L436.85,538.55 L437.36,550.50 L437.88,537.45 L438.48,537.45 L439.00,550.50 L439.52,538.55 L440.12,538.55 L440.91,550.50 L441.70,546.18 L442.30,546.18 L442.82,550.50 L443.34,541.82 L443.94,541.82 L444.45,550.50 L444.97,538.55 L445.57,538.55 L446.09,550.50 L446.61,545.09 L447.21,545.09 L447.73,550.50 L448.25,548.36 L448.85,548.36 L449.36,550.50 L449.88,537.45 L450.48,537.45 L451.00,550.50 L451.52,540.73 L452.12,540.73 L452.64,550.50 L453.15,547.27 L453.75,547.27 L454.27,550.50 L454.79,547.27 L455.39,547.27 L455.91,550.50 L456.43,545.09 L457.03,545.09 L457.55,550.50 L458.06,549.45 L458.66,549.45 L459.18,550.50 L459.70,545.09 L460.30,545.09 L460.82,550.50 L461.34,540.73 L461.94,540.73 L462.45,550.50 L462.97,546.18 L463.57,546.18 L464.09,550.50 L464.61,547.27 L465.21,547.27 L465.73,550.50 L466.25,548.36 L466.85,548.36 L467.36,550.50 L467.88,545.09 L468.48,545.09 L469.00,550.50 L469.52,542.91 L470.12,542.91 L470.64,550.50 L471.15,546.18 L471.75,546.18 L472.27,550.50 L472.79,545.09 L473.39,545.09 L473.91,550.50 L474.43,542.91 L475.03,542.91 L475.82,550.50 L476.61,541.82 L477.21,541.82 L477.73,550.50 L478.25,541.82 L478.85,541.82 L479.36,550.50 L479.88,547.27 L480.48,547.27 L481.00,550.50 L481.52,548.36 L482.12,548.36 L482.64,550.50 L483.15,548.36 L483.75,548.36 L484.27,550.50 L484.79,542.91 L485.39,542.91 L485.91,550.50 L486.43,547.27 L487.03,547.27 L487.55,550.50 L488.06,548.36 L488.66,548.36 L489.18,550.50 L489.70,549.45 L490.30,549.45 L490.82,550.50 L491.34,544.00 L491.94,544.00 L492.45,550.50 L492.97,547.27 L493.57,547.27 L494.09,550.50 L494.61,548.36 L495.21,548.36 L495.73,550.50 L496.25,549.45 L496.85,549.45 L497.36,550.55 L497.88,550.55 L498.48,550.55 L499.00,550.55 L499.52,548.36 L500.12,548.36 L500.64,550.50 L501.15,545.09 L501.75,545.09 L502.27,550.50 L502.79,547.27 L503.39,547.27 L503.91,550.50 L504.43,541.82 L505.03,541.82 L505.55,550.50 L506.06,540.73 L506.66,540.73 L507.18,550.50 L507.70,536.36 L508.30,536.36 L508.82,550.50 L509.34,541.82 L509.94,541.82 L510.45,550.50 L510.97,545.09 L511.57,545.09 L512.09,550.50 L512.61,544.00 L513.21,544.00 L513.73,550.50 L514.25,542.91 L514.85,542.91 L515.36,550.50 L515.88,541.82 L516.48,541.82 L517.00,550.50 L517.52,542.91 L518.12,542.91 L518.64,550.50 L519.15,545.09 L519.75,545.09 L520.27,550.50 L520.79,542.91 L521.39,542.91 L521.91,550.50 L522.43,542.91 L523.03,542.91 L523.27,550.50 L523.52,544.00 L524.12,544.00 L524.12,563.64 L523.52,563.64 L523.27,556.50 L523.03,564.73 L522.43,564.73 L521.91,556.50 L521.39,561.45 L520.79,561.45 L520.27,556.50 L519.75,565.82 L519.15,565.82 L518.64,556.50 L518.12,562.55 L517.52,562.55 L517.00,556.50 L516.48,566.91 L515.88,566.91 L515.36,556.50 L514.85,564.73 L514.25,564.73 L513.73,556.50 L513.21,560.36 L512.61,560.36 L512.09,556.50 L511.57,561.45 L510.97,561.45 L510.45,556.50 L509.94,563.64 L509.34,563.64 L508.82,556.50 L508.30,565.82 L507.70,565.82 L507.18,556.50 L506.66,569.09 L506.06,569.09 L505.55,556.50 L505.03,563.64 L504.43,563.64 L503.91,556.50 L503.39,562.55 L502.79,562.55 L502.27,556.50 L501.75,560.36 L501.15,560.36 L500.64,556.50 L500.12,558.18 L499.52,558.18 L499.00,556.50 L498.48,557.09 L497.88,557.09 L497.36,556.00 L496.85,556.00 L496.25,556.00 L495.73,556.00 L495.21,557.09 L494.61,557.09 L494.09,556.50 L493.57,558.18 L492.97,558.18 L492.45,556.50 L491.94,561.45 L491.34,561.45 L490.82,556.50 L490.30,560.36 L489.70,560.36 L489.18,556.50 L488.66,557.09 L488.06,557.09 L487.55,556.50 L487.03,562.55 L486.43,562.55 L485.91,556.50 L485.39,559.27 L484.79,559.27 L484.27,556.50 L483.75,561.45 L483.15,561.45 L482.64,556.50 L482.12,558.18 L481.52,558.18 L481.00,556.50 L480.48,559.27 L479.88,559.27 L479.36,556.50 L478.85,564.73 L478.25,564.73 L477.73,556.50 L477.21,564.73 L476.61,564.73 L475.82,556.50 L475.03,561.45 L474.43,561.45 L473.91,556.50 L473.39,562.55 L472.79,562.55 L472.27,556.50 L471.75,560.36 L471.15,560.36 L470.64,556.50 L470.12,562.55 L469.52,562.55 L469.00,556.50 L468.48,564.73 L467.88,564.73 L467.36,556.50 L466.85,561.45 L466.25,561.45 L465.73,556.50 L465.21,561.45 L464.61,561.45 L464.09,556.50 L463.57,560.36 L462.97,560.36 L462.45,556.50 L461.94,564.73 L461.34,564.73 L460.82,556.50 L460.30,563.64 L459.70,563.64 L459.18,556.50 L458.66,559.27 L458.06,559.27 L457.55,556.50 L457.03,561.45 L456.43,561.45 L455.91,556.50 L455.39,559.27 L454.79,559.27 L454.27,556.50 L453.75,560.36 L453.15,560.36 L452.64,556.50 L452.12,565.82 L451.52,565.82 L451.00,556.50 L450.48,566.91 L449.88,566.91 L449.36,556.50 L448.85,563.64 L448.25,563.64 L447.73,556.50 L447.21,561.45 L446.61,561.45 L446.09,556.50 L445.57,563.64 L444.97,563.64 L444.45,556.50 L443.94,569.09 L443.34,569.09 L442.82,556.50 L442.30,560.36 L441.70,560.36 L440.91,556.50 L440.12,565.82 L439.52,565.82 L439.00,556.50 L438.48,566.91 L437.88,566.91 L437.36,556.50 L436.85,568.00 L436.25,568.00 L435.73,556.50 L435.21,568.00 L434.61,568.00 L434.09,556.50 L433.57,566.91 L432.97,566.91 L432.45,556.50 L431.94,559.27 L431.34,559.27 L430.82,556.50 L430.30,564.73 L429.70,564.73 L429.18,556.50 L428.66,572.36 L428.06,572.36 L427.55,556.50 L427.03,568.00 L426.43,568.00 L425.91,556.50 L425.39,565.82 L424.79,565.82 L424.27,556.50 L423.75,561.45 L423.15,561.45 L422.64,556.50 L422.12,557.09 L421.52,557.09 L421.00,556.50 L420.48,558.18 L419.88,558.18 L419.36,556.50 L418.85,561.45 L418.25,561.45 L417.73,556.50 L417.21,558.18 L416.61,558.18 L415.82,556.50 L415.03,559.27 L414.43,559.27 L413.91,556.00 L413.39,556.00 L412.79,556.00 L412.27,556.00 L411.75,560.36 L411.15,560.36 L410.64,556.50 L410.12,559.27 L409.52,559.27 L409.00,556.50 L408.48,560.36 L407.88,560.36 L407.36,556.50 L406.85,559.27 L406.25,559.27 L405.73,554.91 L405.21,554.91 L404.61,554.91 L404.09,554.91 L403.57,556.00 L402.97,556.00 L402.45,554.91 L401.94,554.91 L401.34,554.91 L400.82,554.91 L400.30,558.18 L399.70,558.18 L399.18,556.50 L398.66,564.73 L398.06,564.73 L397.55,556.50 L397.03,563.64 L396.43,563.64 L395.91,556.50 L395.39,562.55 L394.79,562.55 L394.27,556.50 L393.75,559.27 L393.15,559.27 L392.64,556.50 L392.12,563.64 L391.52,563.64 L391.00,556.50 L390.48,572.36 L389.88,572.36 L389.36,556.50 L388.85,568.00 L388.25,568.00 L387.73,556.50 L387.21,563.64 L386.61,563.64 L386.09,556.50 L385.57,566.91 L384.97,566.91 L384.45,556.50 L383.94,559.27 L383.34,559.27 L382.82,556.00 L382.30,556.00 L381.70,556.00 L381.18,556.00 L380.66,562.55 L380.06,562.55 L379.55,556.50 L379.03,562.55 L378.43,562.55 L377.91,556.50 L377.39,565.82 L376.79,565.82 L376.27,556.50 L375.75,570.18 L375.15,570.18 L374.64,556.50 L374.12,566.91 L373.52,566.91 L373.00,556.50 L372.48,568.00 L371.88,568.00 L371.36,556.00 L370.85,556.00 L370.25,556.00 L369.73,556.00 L369.21,562.55 L368.61,562.55 L368.09,556.50 L367.57,564.73 L366.97,564.73 L366.18,556.50 L365.39,571.27 L364.79,571.27 L364.27,556.50 L363.75,570.18 L363.15,570.18 L362.64,556.50 L362.12,568.00 L361.52,568.00 L361.00,556.50 L360.48,560.36 L359.88,560.36 L359.36,556.50 L358.85,561.45 L358.25,561.45 L358.00,556.50 L357.75,564.73 L357.15,564.73 L356.91,556.50 L356.66,563.64 L356.06,563.64 L355.55,556.50 L355.03,561.45 L354.43,561.45 L353.91,556.50 L353.39,565.82 L352.79,565.82 L352.27,556.50 L351.75,564.73 L351.15,564.73 L350.64,556.50 L350.12,563.64 L349.52,563.64 L349.00,556.50 L348.48,559.27 L347.88,559.27 L347.36,556.50 L346.85,564.73 L346.25,564.73 L345.73,556.50 L345.21,566.91 L344.61,566.91 L344.09,556.50 L343.57,561.45 L342.97,561.45 L342.45,556.50 L341.94,565.82 L341.34,565.82 L340.82,556.50 L340.30,572.36 L339.70,572.36 L339.18,556.50 L338.66,571.27 L338.06,571.27 L337.55,556.50 L337.03,562.55 L336.43,562.55 L335.91,556.50 L335.39,570.18 L334.79,570.18 L334.27,556.50 L333.75,565.82 L333.15,565.82 L332.64,556.50 L332.12,558.18 L331.52,558.18 L331.00,554.91 L330.48,554.91 L329.88,554.91 L329.36,554.91 L328.85,560.36 L328.25,560.36 L327.73,556.50 L327.21,571.27 L326.61,571.27 L326.09,556.50 L325.57,569.09 L324.97,569.09 L324.45,556.50 L323.94,568.00 L323.34,568.00 L322.82,556.50 L322.30,563.64 L321.70,563.64 L321.18,556.00 L320.66,556.00 L320.06,556.00 L319.55,556.00 L319.03,565.82 L318.43,565.82 L317.91,556.50 L317.39,563.64 L316.79,563.64 L316.27,556.50 L315.75,566.91 L315.15,566.91 L314.64,556.50 L314.12,559.27 L313.52,559.27 L313.00,556.50 L312.48,565.82 L311.88,565.82 L311.36,556.50 L310.85,561.45 L310.25,561.45 L309.73,556.50 L309.21,564.73 L308.61,564.73 L308.09,556.50 L307.57,566.91 L306.97,566.91 L306.45,556.50 L305.94,565.82 L305.34,565.82 L304.55,556.50 L303.75,561.45 L303.15,561.45 L302.64,556.00 L302.12,556.00 L301.52,556.00 L301.00,556.00 L300.48,564.73 L299.88,564.73 L299.36,556.50 L298.85,566.91 L298.25,566.91 L298.00,556.50 L297.75,566.91 L297.15,566.91 L296.91,556.00 L296.66,556.00 L296.06,556.00 L295.55,556.00 L295.03,560.36 L294.43,560.36 L293.91,556.50 L293.39,559.27 L292.79,559.27 L292.27,556.50 L291.75,562.55 L291.15,562.55 L290.64,556.50 L290.12,561.45 L289.52,561.45 L289.00,556.50 L288.48,563.64 L287.88,563.64 L287.36,556.00 L286.85,556.00 L286.25,556.00 L285.73,556.00 L285.21,560.36 L284.61,560.36 L284.09,556.50 L283.57,566.91 L282.97,566.91 L282.45,556.50 L281.94,565.82 L281.34,565.82 L280.82,556.50 L280.30,563.64 L279.70,563.64 L279.18,556.50 L278.66,561.45 L278.06,561.45 L277.55,556.50 L277.03,570.18 L276.43,570.18 L275.91,556.50 L275.39,572.36 L274.79,572.36 L274.27,556.50 L273.75,566.91 L273.15,566.91 L272.64,556.50 L272.12,571.27 L271.52,571.27 L271.00,556.50 L270.48,568.00 L269.88,568.00 L269.36,556.50 L268.85,560.36 L268.25,560.36 L267.73,556.50 L267.21,558.18 L266.61,558.18 L266.09,556.50 L265.57,561.45 L264.97,561.45 L264.45,556.50 L263.94,568.00 L263.34,568.00 L262.82,556.50 L262.30,562.55 L261.70,562.55 L261.18,556.50 L260.66,563.64 L260.06,563.64 L259.55,556.50 L259.03,568.00 L258.43,568.00 L257.91,556.50 L257.39,563.64 L256.79,563.64 L256.27,556.50 L255.75,565.82 L255.15,565.82 L254.64,556.50 L254.12,562.55 L253.52,562.55 L253.00,556.50 L252.48,561.45 L251.88,561.45 L251.36,556.50 L250.85,565.82 L250.25,565.82 L249.73,556.50 L249.21,563.64 L248.61,563.64 L248.09,556.50 L247.57,570.18 L246.97,570.18 L246.45,556.50 L245.94,563.64 L245.34,563.64 L244.82,554.91 L244.30,554.91 L243.70,554.91 L243.05,554.91 L242.39,556.00 L241.79,556.00 L241.14,556.00 L240.48,558.18 L239.88,558.18 L239.36,556.50 L238.85,559.27 L238.25,559.27 L238.00,556.50 L237.75,557.09 L237.15,557.09 L236.64,556.50 L236.12,560.36 L235.52,560.36 L235.00,556.50 L234.48,571.27 L233.88,571.27 L233.36,556.50 L232.85,565.82 L232.25,565.82 L231.73,556.50 L231.21,570.18 L230.61,570.18 L230.09,556.50 L229.57,569.09 L228.97,569.09 L228.45,556.50 L227.94,562.55 L227.34,562.55 L226.82,556.50 L226.30,564.73 L225.70,564.73 L225.18,556.50 L224.66,560.36 L224.06,560.36 L223.55,556.50 L223.03,565.82 L222.43,565.82 L221.91,556.50 L221.39,571.27 L220.79,571.27 L220.27,556.50 L219.75,563.64 L219.15,563.64 L218.64,556.50 L218.12,565.82 L217.52,565.82 L217.00,556.50 L216.48,562.55 L215.88,562.55 L215.36,556.50 L214.85,561.45 L214.25,561.45 L213.73,556.50 L213.21,565.82 L212.61,565.82 L212.09,556.50 L211.57,563.64 L210.97,563.64 L210.45,556.50 L209.94,570.18 L209.34,570.18 L208.82,556.50 L208.30,568.00 L207.70,568.00 L207.18,556.50 L206.66,563.64 L206.06,563.64 L205.55,556.50 L205.03,570.18 L204.43,570.18 L203.64,556.50 L202.85,561.45 L202.25,561.45 L201.73,556.50 L201.21,564.73 L200.61,564.73 L200.09,556.50 L199.57,563.64 L198.97,563.64 L198.18,556.50 L197.39,559.27 L196.79,559.27 L196.27,556.50 L195.75,560.36 L195.15,560.36 L194.64,556.50 L194.12,562.55 L193.52,562.55 L193.00,556.50 L192.48,570.18 L191.88,570.18 L191.36,556.50 L190.85,569.09 L190.25,569.09 L189.73,556.50 L189.21,561.45 L188.61,561.45 L188.09,556.50 L187.57,570.18 L186.97,570.18 L186.45,556.50 L185.94,563.64 L185.34,563.64 L184.55,556.00 L183.75,556.00 L183.15,556.00 L182.64,556.00 L182.12,563.64 L181.52,563.64 L181.00,556.50 L180.48,571.27 L179.88,571.27 L179.36,556.50 L178.85,568.00 L178.25,568.00 L178.00,556.50 L177.75,560.36 L177.15,560.36 L176.64,556.50 L176.12,564.73 L175.52,564.73 L175.00,556.50 L174.48,568.00 L173.88,568.00 L173.36,556.50 L172.85,560.36 L172.25,560.36 L171.73,556.50 L171.21,565.82 L170.61,565.82 L170.09,556.50 L169.57,562.55 L168.97,562.55 L168.45,556.00 L167.94,556.00 L167.34,556.00 L166.82,556.00 L166.30,556.00 L165.70,556.00 L165.18,556.00 L164.66,559.27 L164.06,559.27 L163.55,556.50 L163.03,571.27 L162.43,571.27 L161.91,556.50 L161.39,565.82 L160.79,565.82 L160.27,556.50 L159.75,571.27 L159.15,571.27 L158.64,556.50 L158.12,568.00 L157.52,568.00 L157.00,556.50 L156.48,564.73 L155.88,564.73 L155.36,556.50 L154.85,560.36 L154.25,560.36 L153.73,556.50 L153.21,558.18 L152.61,558.18 L152.09,556.50 L151.57,560.36 L150.97,560.36 L150.45,556.50 L149.94,570.18 L149.34,570.18 L149.09,556.50 L148.85,564.73 L148.25,564.73 L147.73,556.50 L147.21,563.64 L146.61,563.64 L146.09,556.50 L145.57,568.00 L144.97,568.00 L144.45,556.50 L143.94,561.45 L143.34,561.45 L142.82,556.50 L142.30,568.00 L141.70,568.00 L141.18,556.50 L140.66,559.27 L140.06,559.27 L139.55,556.50 L139.03,562.55 L138.43,562.55 L137.91,556.50 L137.39,569.64 L136.79,569.64 L136.27,556.50 L135.75,563.64 L135.15,563.64 L134.64,556.50 L134.12,560.36 L133.52,560.36 L133.00,556.50 L132.48,562.55 L131.88,562.55 L131.36,556.50 L130.85,563.64 L130.25,563.64 L129.73,556.50 L129.21,561.45 L128.61,561.45 L128.09,556.50 L127.57,559.27 L126.97,559.27 L126.45,556.50 L125.94,564.73 L125.34,564.73 L124.82,556.50 L124.30,561.45 L123.70,561.45 L123.05,556.50 L122.39,565.82 L121.79,565.82 L121.14,556.50 L120.48,570.18 L119.88,570.18 L119.36,556.50 L118.85,558.18 L118.25,558.18 L117.86,556.50 L117.48,558.18 L116.88,558.18 L116.09,556.50 L115.30,559.27 L114.70,559.27 L114.05,556.50 L113.39,568.00 L112.79,568.00 L112.27,556.50 L111.75,571.27 L111.15,571.27 L110.64,556.50 L110.12,561.45 L109.52,561.45 L108.73,556.50 L107.94,559.27 L107.34,559.27 L106.82,556.50 L106.30,561.45 L105.70,561.45 L105.18,556.50 L104.66,564.73 L104.06,564.73 L103.55,556.50 L103.03,557.09 L102.43,557.09 L101.91,556.50 L101.39,560.36 L100.79,560.36 L100.00,556.50 L99.21,558.18 L98.61,558.18 L98.09,556.50 L97.57,564.18 L96.97,564.18 L96.32,556.50 L95.66,563.64 L95.06,563.64 L94.41,556.50 L93.75,561.45 L93.15,561.45 L92.50,556.50 L91.85,570.18 L91.25,570.18 L90.45,556.50 L89.66,566.91 L89.06,566.91 L88.41,556.50 L87.75,569.09 L87.15,569.09 L86.64,556.50 L86.12,558.18 L85.52,558.18 L84.86,556.50 L84.21,562.55 L83.61,562.55 L82.95,556.50 L82.30,561.45 L81.70,561.45 L81.05,556.50 L80.39,568.00 L79.79,568.00 L79.00,556.50 L78.21,569.09 L77.61,569.09 L76.95,556.50 L76.30,560.36 L75.70,560.36 L75.05,556.50 L74.39,563.64 L73.79,563.64 L73.14,556.50 L72.48,564.73 L71.88,564.73 L71.64,556.50 L71.39,566.91 L70.79,566.91 L70.14,556.50 L69.48,562.55 L68.88,562.55 L68.09,556.50 L67.30,565.82 L66.70,565.82 L66.05,556.50 L65.39,562.55 L64.79,562.55 L64.14,556.50 L63.48,563.64 L62.88,563.64 L62.09,556.50 L61.30,570.18 L60.70,570.18 L59.91,556.50 L59.12,560.36 L58.60,560.36Z" fill="#4040ff"/><path d="M58.82,547.27V560.36M61.00,533.09V570.18M63.18,533.09V563.64M65.09,546.18V562.55M67.00,545.09V565.82M69.18,543.45V562.55M71.09,538.55V566.91M72.18,538.00V564.73M74.09,540.73V563.64M76.00,550.55V560.36M77.91,537.45V569.09M80.09,536.36V568.00M82.00,545.09V561.45M83.91,546.18V562.55M85.82,548.36V558.18M87.45,544.00V569.09M89.36,535.27V566.91M91.55,537.45V570.18M93.45,542.91V561.45M95.36,546.18V563.64M97.27,544.00V564.18M98.91,549.45V558.18M101.09,545.64V560.36M102.73,545.09V557.09M104.36,541.82V564.73M106.00,540.18V561.45M107.64,545.09V559.27M109.82,547.27V561.45M111.45,536.36V571.27M113.09,539.09V568.00M115.00,538.55V559.27M117.18,546.18V558.18M118.55,539.64V558.18M120.18,539.64V570.18M122.09,537.45V565.82M124.00,541.82V561.45M125.64,546.18V564.73M127.27,547.27V559.27M128.91,546.18V561.45M130.55,539.09V563.64M132.18,546.18V562.55M133.82,547.27V560.36M135.45,549.45V563.64M137.09,536.36V569.64M138.73,546.18V562.55M140.36,542.91V559.27M142.00,541.82V568.00M143.64,541.82V561.45M145.27,547.27V568.00M146.91,540.73V563.64M148.55,538.55V564.73M149.64,535.27V570.18M151.27,538.55V560.36M152.91,547.27V558.18M154.55,546.18V560.36M156.18,545.64V564.73M157.82,535.27V568.00M159.45,533.09V571.27M161.09,541.82V565.82M162.73,542.91V571.27M164.36,544.00V559.27M166.00,549.45V556.00M167.64,551.64V556.00M169.27,549.45V562.55M170.91,544.00V565.82M172.55,540.73V560.36M174.18,541.82V568.00M175.82,545.09V564.73M177.45,534.18V560.36M178.55,534.18V568.00M180.18,536.36V571.27M181.82,548.36V563.64M183.45,550.55V556.00M185.64,542.91V563.64M187.27,540.73V570.18M188.91,539.64V561.45M190.55,534.18V569.09M192.18,536.36V570.18M193.82,537.45V562.55M195.45,545.09V560.36M197.09,546.18V559.27M199.27,541.82V563.64M200.91,545.09V564.73M202.55,546.18V561.45M204.73,535.27V570.18M206.36,535.27V563.64M208.00,545.09V568.00M209.64,536.36V570.18M211.27,538.55V563.64M212.91,539.64V565.82M214.55,541.82V561.45M216.18,540.73V562.55M217.82,545.09V565.82M219.45,536.36V563.64M221.09,537.45V571.27M222.73,538.55V565.82M224.36,546.18V560.36M226.00,542.91V564.73M227.64,540.73V562.55M229.27,541.82V569.09M230.91,536.36V570.18M232.55,533.09V565.82M234.18,534.18V571.27M235.82,542.91V560.36M237.45,549.45V557.09M238.55,547.27V559.27M240.18,548.36V558.18M242.09,550.55V556.00M244.00,551.64V554.91M245.64,541.82V563.64M247.27,540.73V570.18M248.91,541.82V563.64M250.55,542.91V565.82M252.18,542.91V561.45M253.82,541.82V562.55M255.45,542.91V565.82M257.09,539.64V563.64M258.73,539.64V568.00M260.36,544.00V563.64M262.00,542.91V562.55M263.64,547.27V568.00M265.27,537.45V561.45M266.91,548.36V558.18M268.55,549.45V560.36M270.18,539.64V568.00M271.82,538.55V571.27M273.45,535.27V566.91M275.09,535.27V572.36M276.73,537.45V570.18M278.36,545.09V561.45M280.00,545.09V563.64M281.64,537.45V565.82M283.27,541.82V566.91M284.91,548.36V560.36M286.55,549.45V556.00M288.18,547.27V563.64M289.82,544.00V561.45M291.45,541.82V562.55M293.09,546.18V559.27M294.73,547.27V560.36M296.36,547.27V556.00M297.45,537.45V566.91M298.55,536.36V566.91M300.18,539.64V564.73M301.82,548.36V556.00M303.45,546.18V561.45M305.64,538.55V565.82M307.27,539.64V566.91M308.91,540.73V564.73M310.55,545.09V561.45M312.18,545.09V565.82M313.82,546.18V559.27M315.45,541.82V566.91M317.09,537.45V563.64M318.73,545.09V565.82M320.36,549.45V556.00M322.00,546.18V563.64M323.64,540.73V568.00M325.27,533.09V569.09M326.91,535.27V571.27M328.55,547.27V560.36M330.18,548.36V554.91M331.82,547.27V558.18M333.45,542.91V565.82M335.09,540.73V570.18M336.73,533.09V562.55M338.36,537.45V571.27M340.00,541.82V572.36M341.64,546.18V565.82M343.27,547.27V561.45M344.91,538.55V566.91M346.55,541.82V564.73M348.18,545.09V559.27M349.82,548.36V563.64M351.45,545.09V564.73M353.09,538.55V565.82M354.73,541.82V561.45M356.36,542.91V563.64M357.45,540.73V564.73M358.55,541.82V561.45M360.18,547.27V560.36M361.82,540.73V568.00M363.45,534.18V570.18M365.09,541.82V571.27M367.27,539.64V564.73M368.91,544.00V562.55M370.55,549.45V556.00M372.18,542.91V568.00M373.82,533.09V566.91M375.45,541.82V570.18M377.09,541.82V565.82M378.73,539.64V562.55M380.36,542.91V562.55M382.00,547.27V556.00M383.64,546.18V559.27M385.27,542.91V566.91M386.91,539.64V563.64M388.55,537.45V568.00M390.18,538.55V572.36M391.82,540.73V563.64M393.45,547.27V559.27M395.09,546.18V562.55M396.73,539.64V563.64M398.36,541.82V564.73M400.00,546.18V558.18M401.64,551.64V554.91M403.27,550.55V556.00M404.91,549.45V554.91M406.55,548.36V559.27M408.18,544.00V560.36M409.82,545.09V559.27M411.45,546.18V560.36M413.09,546.18V556.00M414.73,548.36V559.27M416.91,545.09V558.18M418.55,546.18V561.45M420.18,545.09V558.18M421.82,550.55V557.09M423.45,541.82V561.45M425.09,539.64V565.82M426.73,538.55V568.00M428.36,536.36V572.36M430.00,535.27V564.73M431.64,542.91V559.27M433.27,537.45V566.91M434.91,538.55V568.00M436.55,538.55V568.00M438.18,537.45V566.91M439.82,538.55V565.82M442.00,546.18V560.36M443.64,541.82V569.09M445.27,538.55V563.64M446.91,545.09V561.45M448.55,548.36V563.64M450.18,537.45V566.91M451.82,540.73V565.82M453.45,547.27V560.36M455.09,547.27V559.27M456.73,545.09V561.45M458.36,549.45V559.27M460.00,545.09V563.64M461.64,540.73V564.73M463.27,546.18V560.36M464.91,547.27V561.45M466.55,548.36V561.45M468.18,545.09V564.73M469.82,542.91V562.55M471.45,546.18V560.36M473.09,545.09V562.55M474.73,542.91V561.45M476.91,541.82V564.73M478.55,541.82V564.73M480.18,547.27V559.27M481.82,548.36V558.18M483.45,548.36V561.45M485.09,542.91V559.27M486.73,547.27V562.55M488.36,548.36V557.09M490.00,549.45V560.36M491.64,544.00V561.45M493.27,547.27V558.18M494.91,548.36V557.09M496.55,549.45V556.00M498.18,550.55V557.09M499.82,548.36V558.18M501.45,545.09V560.36M503.09,547.27V562.55M504.73,541.82V563.64M506.36,540.73V569.09M508.00,536.36V565.82M509.64,541.82V563.64M511.27,545.09V561.45M512.91,544.00V560.36M514.55,542.91V564.73M516.18,541.82V566.91M517.82,542.91V562.55M519.45,545.09V565.82M521.09,542.91V561.45M522.73,542.91V564.73M523.82,544.00V563.64" stroke="#0000e8" stroke-width="1.3" fill="none"/>
<text x="291" y="631.10" font-size="16.0" text-anchor="middle" fill="#262626" class="s">Data poit</text>
<text transform="translate(24.8,554.8) rotate(-90)" font-size="16.0" text-anchor="middle" fill="#262626" class="s">Original</text>
<path d="M104.50,649.0V727.0M151.50,649.0V727.0M197.50,649.0V727.0M244.50,649.0V727.0M290.50,649.0V727.0M337.50,649.0V727.0M384.50,649.0V727.0M430.50,649.0V727.0M477.50,649.0V727.0M523.50,649.0V727.0" stroke="#e6e6e6" stroke-width="1" fill="none"/>
<path d="M58.0,649.0H524.0" stroke="#e6e6e6" stroke-width="2" fill="none"/>
<path d="M58.0,649.0V727.0H524.0" stroke="#858585" stroke-width="2" fill="none"/>
<text x="57.70" y="745.20" font-size="13.7" text-anchor="middle" fill="#262626" class="s">0</text>
<text x="104.30" y="745.20" font-size="13.7" text-anchor="middle" fill="#262626" class="s">1000</text>
<text x="150.90" y="745.20" font-size="13.7" text-anchor="middle" fill="#262626" class="s">2000</text>
<text x="197.50" y="745.20" font-size="13.7" text-anchor="middle" fill="#262626" class="s">3000</text>
<text x="244.10" y="745.20" font-size="13.7" text-anchor="middle" fill="#262626" class="s">4000</text>
<text x="290.70" y="745.20" font-size="13.7" text-anchor="middle" fill="#262626" class="s">5000</text>
<text x="337.30" y="745.20" font-size="13.7" text-anchor="middle" fill="#262626" class="s">6000</text>
<text x="383.90" y="745.20" font-size="13.7" text-anchor="middle" fill="#262626" class="s">7000</text>
<text x="430.50" y="745.20" font-size="13.7" text-anchor="middle" fill="#262626" class="s">8000</text>
<text x="477.10" y="745.20" font-size="13.7" text-anchor="middle" fill="#262626" class="s">9000</text>
<text x="505.2" y="745.20" font-size="13.7" fill="#262626" class="s" textLength="39.2" lengthAdjust="spacing">10000</text>
<text x="52.70" y="653.00" font-size="13.7" text-anchor="end" fill="#262626" class="s">10</text>
<text x="52.70" y="692.00" font-size="13.7" text-anchor="end" fill="#262626" class="s">0</text>
<text x="52.70" y="731.00" font-size="13.7" text-anchor="end" fill="#262626" class="s">-10</text>
<path d="M57.50,727.0V722.2M104.50,727.0V722.2M151.50,727.0V722.2M197.50,727.0V722.2M244.50,727.0V722.2M290.50,727.0V722.2M337.50,727.0V722.2M384.50,727.0V722.2M430.50,727.0V722.2M477.50,727.0V722.2M523.50,727.0V722.2M58.0,649.00H63.0M58.0,688.00H63.0M58.0,727.00H63.0" stroke="#3a3a3a" stroke-width="1" fill="none"/>
<path d="M58.60,666.09 L58.95,666.09 L59.77,675.00 L60.60,660.64 L61.40,660.64 L62.09,675.00 L62.78,663.91 L63.58,663.91 L64.27,675.00 L64.96,669.36 L65.76,669.36 L66.45,675.00 L67.15,666.09 L67.95,666.09 L68.64,675.00 L69.33,661.73 L70.13,661.73 L70.55,675.00 L70.96,662.82 L71.76,662.82 L72.45,675.00 L73.15,672.64 L73.95,672.64 L74.64,677.00 L75.33,677.00 L76.13,677.00 L76.82,677.00 L77.51,663.91 L78.31,663.91 L79.00,675.00 L79.69,659.55 L80.49,659.55 L80.91,675.00 L81.33,666.09 L82.13,666.09 L82.82,675.00 L83.51,671.55 L84.31,671.55 L85.00,675.00 L85.69,674.82 L86.49,674.82 L87.18,675.00 L87.87,665.00 L88.67,665.00 L89.36,675.00 L90.05,662.82 L90.85,662.82 L91.27,675.00 L91.69,668.27 L92.49,668.27 L93.18,675.00 L93.87,674.82 L94.67,674.82 L95.36,675.91 L96.05,675.91 L96.85,675.91 L97.82,675.91 L98.78,673.73 L99.58,673.73 L100.27,675.00 L100.96,667.18 L101.76,667.18 L102.45,675.00 L103.15,663.91 L103.95,663.91 L104.64,675.00 L105.33,669.36 L106.13,669.36 L106.82,679.18 L107.51,679.18 L108.31,679.18 L109.00,679.18 L109.69,673.73 L110.49,673.73 L110.91,675.00 L111.33,661.73 L112.13,661.73 L112.82,675.00 L113.51,661.73 L114.31,661.73 L115.27,675.00 L116.24,674.82 L117.04,674.82 L117.73,675.00 L118.42,669.36 L119.22,669.36 L120.05,675.00 L120.87,660.64 L121.67,660.64 L122.50,675.00 L123.33,667.18 L124.13,667.18 L124.82,677.00 L125.51,677.00 L126.31,677.00 L127.00,677.00 L127.69,675.91 L128.49,675.91 L129.18,675.91 L129.87,667.18 L130.67,667.18 L131.36,675.00 L132.05,667.18 L132.85,667.18 L133.55,675.00 L134.24,671.55 L135.04,671.55 L135.73,675.00 L136.42,670.45 L137.22,670.45 L137.91,675.00 L138.60,666.09 L139.40,666.09 L140.09,675.00 L140.78,666.09 L141.58,666.09 L142.27,675.00 L142.96,672.64 L143.76,672.64 L144.45,675.00 L145.15,672.64 L145.95,672.64 L146.64,675.00 L147.33,663.91 L148.13,663.91 L148.68,675.00 L149.24,659.55 L150.04,659.55 L150.86,675.00 L151.69,665.00 L152.49,665.00 L152.91,675.00 L153.33,674.82 L154.13,674.82 L154.82,675.00 L155.51,673.73 L156.31,673.73 L157.00,675.00 L157.69,665.00 L158.49,665.00 L158.91,675.00 L159.33,662.82 L160.13,662.82 L160.82,675.00 L161.51,669.36 L162.31,669.36 L163.00,677.00 L163.69,677.00 L164.49,677.00 L165.18,677.00 L165.87,675.91 L166.67,675.91 L167.36,675.91 L168.05,670.45 L168.85,670.45 L169.41,675.00 L169.96,667.18 L170.76,667.18 L171.59,675.00 L172.42,671.55 L173.22,671.55 L173.91,677.00 L174.60,677.00 L175.40,677.00 L176.09,677.00 L176.78,668.27 L177.58,668.27 L178.00,675.00 L178.42,661.73 L179.22,661.73 L179.91,675.00 L180.60,660.64 L181.40,660.64 L182.09,675.00 L182.78,669.36 L183.58,669.36 L184.27,679.18 L184.96,679.18 L185.76,679.18 L186.45,679.18 L187.15,671.55 L187.95,671.55 L188.36,675.00 L188.78,659.55 L189.58,659.55 L190.14,675.00 L190.69,659.55 L191.49,659.55 L192.32,675.00 L193.15,669.36 L193.95,669.36 L194.64,675.00 L195.33,674.82 L196.13,674.82 L196.82,675.00 L197.51,669.36 L198.31,669.36 L198.86,675.00 L199.42,662.82 L200.22,662.82 L200.77,675.00 L201.33,665.00 L202.13,665.00 L202.82,675.00 L203.51,669.36 L204.31,669.36 L205.00,675.00 L205.69,666.09 L206.49,666.09 L206.91,675.00 L207.33,662.82 L208.13,662.82 L208.82,675.00 L209.51,660.64 L210.31,660.64 L210.73,675.00 L211.15,662.82 L211.95,662.82 L212.64,675.00 L213.33,667.18 L214.13,667.18 L214.82,675.00 L215.51,668.27 L216.31,668.27 L217.00,675.00 L217.69,665.00 L218.49,665.00 L218.91,675.00 L219.33,662.82 L220.13,662.82 L220.27,675.00 L220.42,658.45 L221.22,658.45 L221.77,675.00 L222.33,660.64 L223.13,660.64 L223.68,675.00 L224.24,668.27 L225.04,668.27 L225.73,675.00 L226.42,674.82 L227.22,674.82 L227.91,675.00 L228.60,666.09 L229.40,666.09 L230.09,675.00 L230.78,659.55 L231.58,659.55 L232.27,675.00 L232.96,665.00 L233.76,665.00 L234.45,675.00 L235.15,674.82 L235.95,674.82 L236.36,679.18 L236.78,679.18 L237.58,679.18 L238.00,679.18 L238.42,669.36 L239.22,669.36 L240.05,675.00 L240.87,666.09 L241.67,666.09 L242.50,675.00 L243.33,674.82 L244.13,674.82 L244.82,678.09 L245.51,678.09 L246.31,678.09 L247.00,678.09 L247.69,670.45 L248.49,670.45 L249.05,675.00 L249.60,669.36 L250.40,669.36 L251.23,675.00 L252.05,671.55 L252.85,671.55 L253.55,675.00 L254.24,669.36 L255.04,669.36 L255.45,675.00 L255.87,670.45 L256.67,670.45 L257.36,675.00 L258.05,671.55 L258.85,671.55 L259.27,675.00 L259.69,669.36 L260.49,669.36 L261.18,675.00 L261.87,663.91 L262.67,663.91 L263.36,675.00 L264.05,662.82 L264.85,662.82 L265.55,675.00 L266.24,670.45 L267.04,670.45 L267.73,678.09 L268.42,678.09 L269.22,678.09 L269.91,678.09 L270.60,666.09 L271.40,666.09 L272.09,675.00 L272.78,657.36 L273.58,657.36 L274.27,675.00 L274.96,662.82 L275.76,662.82 L276.45,675.91 L277.15,675.91 L277.95,675.91 L278.64,677.00 L279.33,677.00 L280.13,677.00 L280.68,677.00 L281.24,663.91 L282.04,663.91 L282.59,675.00 L283.15,665.00 L283.95,665.00 L284.64,675.00 L285.33,674.82 L286.13,674.82 L286.82,675.91 L287.51,675.91 L288.31,675.91 L289.00,675.91 L289.69,665.00 L290.49,665.00 L291.18,675.00 L291.87,667.18 L292.67,667.18 L293.36,677.00 L294.05,677.00 L294.85,677.00 L295.68,677.00 L296.51,663.91 L297.31,663.91 L297.86,675.00 L298.42,662.82 L299.22,662.82 L299.64,675.00 L300.05,663.91 L300.85,663.91 L301.55,675.00 L302.24,674.82 L303.04,674.82 L303.73,675.00 L304.42,673.73 L305.22,673.73 L305.64,675.00 L306.05,665.00 L306.85,665.00 L307.68,675.00 L308.51,663.91 L309.31,663.91 L310.14,675.00 L310.96,672.64 L311.76,672.64 L312.45,675.00 L313.15,670.45 L313.95,670.45 L314.36,675.00 L314.78,662.82 L315.58,662.82 L316.27,675.00 L316.96,661.73 L317.76,661.73 L318.45,675.00 L319.15,672.64 L319.95,672.64 L320.64,680.27 L321.33,680.27 L322.13,680.27 L322.82,680.27 L323.51,666.09 L324.31,666.09 L324.73,675.00 L325.15,655.18 L325.95,655.18 L326.36,675.00 L326.78,658.45 L327.58,658.45 L328.27,675.00 L328.96,670.45 L329.76,670.45 L330.45,681.36 L331.15,681.36 L331.95,681.36 L332.64,681.36 L333.33,665.00 L334.13,665.00 L335.09,675.00 L336.05,656.27 L336.85,656.27 L337.55,675.00 L338.24,665.00 L339.04,665.00 L339.73,677.00 L340.42,677.00 L341.22,677.00 L341.91,677.00 L342.60,674.82 L343.40,674.82 L343.95,675.00 L344.51,662.82 L345.31,662.82 L346.14,675.00 L346.96,667.18 L347.76,667.18 L348.18,675.00 L348.60,674.82 L349.40,674.82 L350.09,675.00 L350.78,673.73 L351.58,673.73 L352.14,675.00 L352.69,663.91 L353.49,663.91 L354.05,675.00 L354.60,660.64 L355.40,660.64 L356.09,675.00 L356.78,669.36 L357.58,669.36 L358.00,675.00 L358.42,672.64 L359.22,672.64 L359.91,675.00 L360.60,669.36 L361.40,669.36 L362.09,675.00 L362.78,659.55 L363.58,659.55 L364.27,675.00 L364.96,657.36 L365.76,657.36 L366.45,675.00 L367.15,667.18 L367.95,667.18 L368.64,675.00 L369.33,674.82 L370.13,674.82 L370.82,675.00 L371.51,670.45 L372.31,670.45 L373.00,675.00 L373.69,661.73 L374.49,661.73 L374.91,675.00 L375.33,658.45 L376.13,658.45 L376.82,675.00 L377.51,662.82 L378.31,662.82 L379.00,675.00 L379.69,673.73 L380.49,673.73 L381.18,677.00 L381.87,677.00 L382.67,677.00 L383.36,677.00 L384.05,669.36 L384.85,669.36 L385.55,675.00 L386.24,661.73 L387.04,661.73 L387.73,675.00 L388.42,662.82 L389.22,662.82 L389.91,675.00 L390.60,674.82 L391.40,674.82 L392.09,685.73 L392.78,685.73 L393.58,685.73 L394.00,685.73 L394.42,678.09 L395.22,678.09 L395.91,678.09 L396.60,665.00 L397.40,665.00 L398.09,675.00 L398.78,668.27 L399.58,668.27 L400.27,679.18 L400.96,679.18 L401.76,679.18 L402.45,682.45 L403.15,682.45 L403.95,682.45 L404.64,682.45 L405.33,674.82 L406.13,674.82 L406.82,675.00 L407.51,671.55 L408.31,671.55 L408.73,677.00 L409.15,677.00 L409.95,677.00 L410.64,683.55 L411.33,683.55 L412.13,683.55 L412.82,683.55 L413.51,680.27 L414.31,680.27 L414.73,680.27 L415.15,672.64 L415.95,672.64 L416.36,675.00 L416.78,671.55 L417.58,671.55 L418.00,675.00 L418.42,673.73 L419.22,673.73 L419.64,682.45 L420.05,682.45 L420.85,682.45 L421.55,682.45 L422.24,677.00 L423.04,677.00 L423.73,677.00 L424.42,666.09 L425.22,666.09 L425.91,675.00 L426.60,662.82 L427.40,662.82 L428.09,675.00 L428.78,673.73 L429.58,673.73 L430.55,675.00 L431.51,669.36 L432.31,669.36 L433.27,675.00 L434.24,659.55 L435.04,659.55 L435.73,675.00 L436.42,663.91 L437.22,663.91 L437.91,675.00 L438.60,674.82 L439.40,674.82 L440.09,675.00 L440.78,674.82 L441.58,674.82 L442.00,675.00 L442.42,668.27 L443.22,668.27 L443.91,675.00 L444.60,669.36 L445.40,669.36 L446.09,675.00 L446.78,672.64 L447.58,672.64 L448.27,675.00 L448.96,670.45 L449.76,670.45 L450.45,675.00 L451.15,668.27 L451.95,668.27 L452.64,675.00 L453.33,674.82 L454.13,674.82 L454.82,681.36 L455.51,681.36 L456.31,681.36 L457.00,681.36 L457.69,678.09 L458.49,678.09 L458.91,678.09 L459.33,668.27 L460.13,668.27 L460.82,675.00 L461.51,668.27 L462.31,668.27 L463.00,679.18 L463.69,679.18 L464.49,679.18 L465.18,683.55 L465.87,683.55 L466.67,683.55 L467.09,683.55 L467.51,674.82 L468.31,674.82 L469.00,675.00 L469.69,668.27 L470.49,668.27 L471.18,675.00 L471.87,674.82 L472.67,674.82 L473.36,681.36 L474.05,681.36 L474.85,681.36 L475.68,683.55 L476.51,683.55 L477.31,683.55 L477.86,683.55 L478.42,673.73 L479.22,673.73 L479.91,675.91 L480.60,675.91 L481.40,675.91 L482.09,680.27 L482.78,680.27 L483.58,680.27 L484.27,681.36 L484.96,681.36 L485.76,681.36 L486.45,681.36 L487.15,678.09 L487.95,678.09 L488.64,679.18 L489.33,679.18 L490.13,679.18 L490.82,681.36 L491.51,681.36 L492.31,681.36 L493.00,681.36 L493.69,678.09 L494.49,678.09 L495.18,678.09 L495.87,677.00 L496.67,677.00 L497.36,678.09 L498.05,678.09 L498.85,678.09 L499.55,682.45 L500.24,682.45 L501.04,682.45 L501.73,683.55 L502.42,683.55 L503.22,683.55 L503.91,683.55 L504.60,678.09 L505.40,678.09 L506.09,678.09 L506.78,673.73 L507.58,673.73 L508.00,675.91 L508.42,675.91 L509.22,675.91 L509.64,681.36 L510.05,681.36 L510.85,681.36 L511.55,683.55 L512.24,683.55 L513.04,683.55 L513.73,683.55 L514.42,679.18 L515.22,679.18 L515.91,679.18 L516.60,673.73 L517.40,673.73 L517.82,675.00 L518.24,674.82 L519.04,674.82 L519.73,678.09 L520.42,678.09 L521.22,678.09 L521.64,679.18 L522.05,679.18 L522.85,679.18 L523.14,681.36 L523.42,681.36 L524.22,681.36 L524.22,694.45 L523.42,694.45 L523.14,694.45 L522.85,695.55 L522.05,695.55 L521.64,695.55 L521.22,696.64 L520.42,696.64 L519.73,696.64 L519.04,701.00 L518.24,701.00 L517.82,701.00 L517.40,702.09 L516.60,702.09 L515.91,697.73 L515.22,697.73 L514.42,697.73 L513.73,693.36 L513.04,693.36 L512.24,693.36 L511.55,693.36 L510.85,694.45 L510.05,694.45 L509.64,694.45 L509.22,701.00 L508.42,701.00 L508.00,701.00 L507.58,701.00 L506.78,701.00 L506.09,696.64 L505.40,696.64 L504.60,696.64 L503.91,692.27 L503.22,692.27 L502.42,692.27 L501.73,692.27 L501.04,692.27 L500.24,692.27 L499.55,692.27 L498.85,696.64 L498.05,696.64 L497.36,696.64 L496.67,698.82 L495.87,698.82 L495.18,697.73 L494.49,697.73 L493.69,697.73 L493.00,693.36 L492.31,693.36 L491.51,693.36 L490.82,693.36 L490.13,695.55 L489.33,695.55 L488.64,695.55 L487.95,696.64 L487.15,696.64 L486.45,693.36 L485.76,693.36 L484.96,693.36 L484.27,693.36 L483.58,694.45 L482.78,694.45 L482.09,694.45 L481.40,698.82 L480.60,698.82 L479.91,698.82 L479.22,703.18 L478.42,703.18 L477.86,696.64 L477.31,696.64 L476.51,696.64 L475.68,696.64 L474.85,697.73 L474.05,697.73 L473.36,697.73 L472.67,704.27 L471.87,704.27 L471.18,701.00 L470.49,706.45 L469.69,706.45 L469.00,701.00 L468.31,701.00 L467.51,701.00 L467.09,694.45 L466.67,694.45 L465.87,694.45 L465.18,694.45 L464.49,699.91 L463.69,699.91 L463.00,699.91 L462.31,709.73 L461.51,709.73 L460.82,701.00 L460.13,708.64 L459.33,708.64 L458.91,698.82 L458.49,698.82 L457.69,698.82 L457.00,695.55 L456.31,695.55 L455.51,695.55 L454.82,695.55 L454.13,702.09 L453.33,702.09 L452.64,701.00 L451.95,707.55 L451.15,707.55 L450.45,701.00 L449.76,704.27 L448.96,704.27 L448.27,701.00 L447.58,703.18 L446.78,703.18 L446.09,701.00 L445.40,708.64 L444.60,708.64 L443.91,701.00 L443.22,706.45 L442.42,706.45 L442.00,701.00 L441.58,702.09 L440.78,702.09 L440.09,701.00 L439.40,703.18 L438.60,703.18 L437.91,701.00 L437.22,711.91 L436.42,711.91 L435.73,701.00 L435.04,716.27 L434.24,716.27 L433.27,701.00 L432.31,707.55 L431.51,707.55 L430.55,701.00 L429.58,704.27 L428.78,704.27 L428.09,701.00 L427.40,709.73 L426.60,709.73 L425.91,701.00 L425.22,711.91 L424.42,711.91 L423.73,701.00 L423.04,702.09 L422.24,702.09 L421.55,693.36 L420.85,693.36 L420.05,693.36 L419.64,693.36 L419.22,696.64 L418.42,696.64 L418.00,696.64 L417.58,704.27 L416.78,704.27 L416.36,701.00 L415.95,701.00 L415.15,701.00 L414.73,698.82 L414.31,698.82 L413.51,698.82 L412.82,694.45 L412.13,694.45 L411.33,694.45 L410.64,694.45 L409.95,701.00 L409.15,701.00 L408.73,701.00 L408.31,704.27 L407.51,704.27 L406.82,701.00 L406.13,702.09 L405.33,702.09 L404.64,694.45 L403.95,694.45 L403.15,694.45 L402.45,694.45 L401.76,698.82 L400.96,698.82 L400.27,698.82 L399.58,708.64 L398.78,708.64 L398.09,701.00 L397.40,709.73 L396.60,709.73 L395.91,698.82 L395.22,698.82 L394.42,698.82 L394.00,692.27 L393.58,692.27 L392.78,692.27 L392.09,692.27 L391.40,706.45 L390.60,706.45 L389.91,701.00 L389.22,715.18 L388.42,715.18 L387.73,701.00 L387.04,714.09 L386.24,714.09 L385.55,701.00 L384.85,705.36 L384.05,705.36 L383.36,699.91 L382.67,699.91 L381.87,699.91 L381.18,699.91 L380.49,705.36 L379.69,705.36 L379.00,701.00 L378.31,714.09 L377.51,714.09 L376.82,701.00 L376.13,716.27 L375.33,716.27 L374.91,701.00 L374.49,714.09 L373.69,714.09 L373.00,701.00 L372.31,708.64 L371.51,708.64 L370.82,701.00 L370.13,702.09 L369.33,702.09 L368.64,701.00 L367.95,711.91 L367.15,711.91 L366.45,701.00 L365.76,717.36 L364.96,717.36 L364.27,701.00 L363.58,715.18 L362.78,715.18 L362.09,701.00 L361.40,706.45 L360.60,706.45 L359.91,701.00 L359.22,701.00 L358.42,701.00 L358.00,701.00 L357.58,705.36 L356.78,705.36 L356.09,701.00 L355.40,713.00 L354.60,713.00 L354.05,701.00 L353.49,711.91 L352.69,711.91 L352.14,701.00 L351.58,704.27 L350.78,704.27 L350.09,701.00 L349.40,703.18 L348.60,703.18 L348.18,701.00 L347.76,708.64 L346.96,708.64 L346.14,701.00 L345.31,714.09 L344.51,714.09 L343.95,701.00 L343.40,704.27 L342.60,704.27 L341.91,701.00 L341.22,701.00 L340.42,701.00 L339.73,701.00 L339.04,714.09 L338.24,714.09 L337.55,701.00 L336.85,717.36 L336.05,717.36 L335.09,701.00 L334.13,714.09 L333.33,714.09 L332.64,694.45 L331.95,694.45 L331.15,694.45 L330.45,694.45 L329.76,703.18 L328.96,703.18 L328.27,701.00 L327.58,719.55 L326.78,719.55 L326.36,701.00 L325.95,718.45 L325.15,718.45 L324.73,701.00 L324.31,707.55 L323.51,707.55 L322.82,696.64 L322.13,696.64 L321.33,696.64 L320.64,696.64 L319.95,705.36 L319.15,705.36 L318.45,701.00 L317.76,714.09 L316.96,714.09 L316.27,701.00 L315.58,714.09 L314.78,714.09 L314.36,701.00 L313.95,705.36 L313.15,705.36 L312.45,701.00 L311.76,705.36 L310.96,705.36 L310.14,701.00 L309.31,714.09 L308.51,714.09 L307.68,701.00 L306.85,711.91 L306.05,711.91 L305.64,701.00 L305.22,704.27 L304.42,704.27 L303.73,701.00 L303.04,704.27 L302.24,704.27 L301.55,701.00 L300.85,714.09 L300.05,714.09 L299.64,701.00 L299.22,713.00 L298.42,713.00 L297.86,701.00 L297.31,707.55 L296.51,707.55 L295.68,699.91 L294.85,699.91 L294.05,699.91 L293.36,699.91 L292.67,708.64 L291.87,708.64 L291.18,701.00 L290.49,709.73 L289.69,709.73 L289.00,701.00 L288.31,703.18 L287.51,703.18 L286.82,701.00 L286.13,705.36 L285.33,705.36 L284.64,701.00 L283.95,714.09 L283.15,714.09 L282.59,701.00 L282.04,710.82 L281.24,710.82 L280.68,701.00 L280.13,701.00 L279.33,701.00 L278.64,701.00 L277.95,704.27 L277.15,704.27 L276.45,701.00 L275.76,714.09 L274.96,714.09 L274.27,701.00 L273.58,717.36 L272.78,717.36 L272.09,701.00 L271.40,714.09 L270.60,714.09 L269.91,699.91 L269.22,699.91 L268.42,699.91 L267.73,699.91 L267.04,707.55 L266.24,707.55 L265.55,701.00 L264.85,714.09 L264.05,714.09 L263.36,701.00 L262.67,709.73 L261.87,709.73 L261.18,701.00 L260.49,707.55 L259.69,707.55 L259.27,701.00 L258.85,704.27 L258.05,704.27 L257.36,701.00 L256.67,706.45 L255.87,706.45 L255.45,701.00 L255.04,706.45 L254.24,706.45 L253.55,701.00 L252.85,704.27 L252.05,704.27 L251.23,701.00 L250.40,705.36 L249.60,705.36 L249.05,701.00 L248.49,706.45 L247.69,706.45 L247.00,699.91 L246.31,699.91 L245.51,699.91 L244.82,699.91 L244.13,702.09 L243.33,702.09 L242.50,701.00 L241.67,709.73 L240.87,709.73 L240.05,701.00 L239.22,708.64 L238.42,708.64 L238.00,696.64 L237.58,696.64 L236.78,696.64 L236.36,696.64 L235.95,701.00 L235.15,701.00 L234.45,701.00 L233.76,711.91 L232.96,711.91 L232.27,701.00 L231.58,715.18 L230.78,715.18 L230.09,701.00 L229.40,708.64 L228.60,708.64 L227.91,701.00 L227.22,702.09 L226.42,702.09 L225.73,701.00 L225.04,705.36 L224.24,705.36 L223.68,701.00 L223.13,716.27 L222.33,716.27 L221.77,701.00 L221.22,717.36 L220.42,717.36 L220.27,701.00 L220.13,714.09 L219.33,714.09 L218.91,701.00 L218.49,711.91 L217.69,711.91 L217.00,701.00 L216.31,709.73 L215.51,709.73 L214.82,701.00 L214.13,707.55 L213.33,707.55 L212.64,701.00 L211.95,711.91 L211.15,711.91 L210.73,701.00 L210.31,715.18 L209.51,715.18 L208.82,701.00 L208.13,714.09 L207.33,714.09 L206.91,701.00 L206.49,707.55 L205.69,707.55 L205.00,701.00 L204.31,707.55 L203.51,707.55 L202.82,701.00 L202.13,711.91 L201.33,711.91 L200.77,701.00 L200.22,713.00 L199.42,713.00 L198.86,701.00 L198.31,705.36 L197.51,705.36 L196.82,699.91 L196.13,699.91 L195.33,699.91 L194.64,699.91 L193.95,709.73 L193.15,709.73 L192.32,701.00 L191.49,717.36 L190.69,717.36 L190.14,701.00 L189.58,716.27 L188.78,716.27 L188.36,701.00 L187.95,709.73 L187.15,709.73 L186.45,696.64 L185.76,696.64 L184.96,696.64 L184.27,696.64 L183.58,702.09 L182.78,702.09 L182.09,701.00 L181.40,715.18 L180.60,715.18 L179.91,701.00 L179.22,714.09 L178.42,714.09 L178.00,696.64 L177.58,696.64 L176.78,696.64 L176.09,696.64 L175.40,699.91 L174.60,699.91 L173.91,699.91 L173.22,703.18 L172.42,703.18 L171.59,701.00 L170.76,708.64 L169.96,708.64 L169.41,701.00 L168.85,707.55 L168.05,707.55 L167.36,701.00 L166.67,702.09 L165.87,702.09 L165.18,701.00 L164.49,701.00 L163.69,701.00 L163.00,701.00 L162.31,707.55 L161.51,707.55 L160.82,701.00 L160.13,713.00 L159.33,713.00 L158.91,701.00 L158.49,709.73 L157.69,709.73 L157.00,699.91 L156.31,699.91 L155.51,699.91 L154.82,699.91 L154.13,704.27 L153.33,704.27 L152.91,701.00 L152.49,710.82 L151.69,710.82 L150.86,701.00 L150.04,716.27 L149.24,716.27 L148.68,701.00 L148.13,713.00 L147.33,713.00 L146.64,701.00 L145.95,706.45 L145.15,706.45 L144.45,701.00 L143.76,702.09 L142.96,702.09 L142.27,701.00 L141.58,705.36 L140.78,705.36 L140.09,701.00 L139.40,709.73 L138.60,709.73 L137.91,701.00 L137.22,704.27 L136.42,704.27 L135.73,701.00 L135.04,704.27 L134.24,704.27 L133.55,701.00 L132.85,707.55 L132.05,707.55 L131.36,701.00 L130.67,705.36 L129.87,705.36 L129.18,699.91 L128.49,699.91 L127.69,699.91 L127.00,697.73 L126.31,697.73 L125.51,697.73 L124.82,697.73 L124.13,702.09 L123.33,702.09 L122.50,701.00 L121.67,713.00 L120.87,713.00 L120.05,701.00 L119.22,706.45 L118.42,706.45 L117.73,698.82 L117.04,698.82 L116.24,698.82 L115.27,698.82 L114.31,715.18 L113.51,715.18 L112.82,701.00 L112.13,715.18 L111.33,715.18 L110.91,701.00 L110.49,701.00 L109.69,701.00 L109.00,696.64 L108.31,696.64 L107.51,696.64 L106.82,696.64 L106.13,707.55 L105.33,707.55 L104.64,701.00 L103.95,710.82 L103.15,710.82 L102.45,701.00 L101.76,709.73 L100.96,709.73 L100.27,701.00 L99.58,704.27 L98.78,704.27 L97.82,701.00 L96.85,701.00 L96.05,701.00 L95.36,701.00 L94.67,702.09 L93.87,702.09 L93.18,701.00 L92.49,708.64 L91.69,708.64 L91.27,701.00 L90.85,714.09 L90.05,714.09 L89.36,701.00 L88.67,711.91 L87.87,711.91 L87.18,699.91 L86.49,699.91 L85.69,699.91 L85.00,699.91 L84.31,704.27 L83.51,704.27 L82.82,701.00 L82.13,709.73 L81.33,709.73 L80.91,701.00 L80.49,716.27 L79.69,716.27 L79.00,701.00 L78.31,715.18 L77.51,715.18 L76.82,699.91 L76.13,699.91 L75.33,699.91 L74.64,699.91 L73.95,705.36 L73.15,705.36 L72.45,701.00 L71.76,716.27 L70.96,716.27 L70.55,701.00 L70.13,711.91 L69.33,711.91 L68.64,701.00 L67.95,713.00 L67.15,713.00 L66.45,701.00 L65.76,706.45 L64.96,706.45 L64.27,701.00 L63.58,707.55 L62.78,707.55 L62.09,701.00 L61.40,715.18 L60.60,715.18 L59.77,701.00 L58.95,714.09 L58.60,714.09Z" fill="#ff0a0a"/><path d="M58.55,666.09V714.09M61.00,660.64V715.18M63.18,663.91V707.55M65.36,669.36V706.45M67.55,666.09V713.00M69.73,661.73V711.91M71.36,662.82V716.27M73.55,672.64V705.36M75.73,677.00V699.91M77.91,663.91V715.18M80.09,659.55V716.27M81.73,666.09V709.73M83.91,671.55V704.27M86.09,674.82V699.91M88.27,665.00V711.91M90.45,662.82V714.09M92.09,668.27V708.64M94.27,674.82V702.09M96.45,675.91V701.00M99.18,673.73V704.27M101.36,667.18V709.73M103.55,663.91V710.82M105.73,669.36V707.55M107.91,679.18V696.64M110.09,673.73V701.00M111.73,661.73V715.18M113.91,661.73V715.18M116.64,674.82V698.82M118.82,669.36V706.45M121.27,660.64V713.00M123.73,667.18V702.09M125.91,677.00V697.73M128.09,675.91V699.91M130.27,667.18V705.36M132.45,667.18V707.55M134.64,671.55V704.27M136.82,670.45V704.27M139.00,666.09V709.73M141.18,666.09V705.36M143.36,672.64V702.09M145.55,672.64V706.45M147.73,663.91V713.00M149.64,659.55V716.27M152.09,665.00V710.82M153.73,674.82V704.27M155.91,673.73V699.91M158.09,665.00V709.73M159.73,662.82V713.00M161.91,669.36V707.55M164.09,677.00V701.00M166.27,675.91V702.09M168.45,670.45V707.55M170.36,667.18V708.64M172.82,671.55V703.18M175.00,677.00V699.91M177.18,668.27V696.64M178.82,661.73V714.09M181.00,660.64V715.18M183.18,669.36V702.09M185.36,679.18V696.64M187.55,671.55V709.73M189.18,659.55V716.27M191.09,659.55V717.36M193.55,669.36V709.73M195.73,674.82V699.91M197.91,669.36V705.36M199.82,662.82V713.00M201.73,665.00V711.91M203.91,669.36V707.55M206.09,666.09V707.55M207.73,662.82V714.09M209.91,660.64V715.18M211.55,662.82V711.91M213.73,667.18V707.55M215.91,668.27V709.73M218.09,665.00V711.91M219.73,662.82V714.09M220.82,658.45V717.36M222.73,660.64V716.27M224.64,668.27V705.36M226.82,674.82V702.09M229.00,666.09V708.64M231.18,659.55V715.18M233.36,665.00V711.91M235.55,674.82V701.00M237.18,679.18V696.64M238.82,669.36V708.64M241.27,666.09V709.73M243.73,674.82V702.09M245.91,678.09V699.91M248.09,670.45V706.45M250.00,669.36V705.36M252.45,671.55V704.27M254.64,669.36V706.45M256.27,670.45V706.45M258.45,671.55V704.27M260.09,669.36V707.55M262.27,663.91V709.73M264.45,662.82V714.09M266.64,670.45V707.55M268.82,678.09V699.91M271.00,666.09V714.09M273.18,657.36V717.36M275.36,662.82V714.09M277.55,675.91V704.27M279.73,677.00V701.00M281.64,663.91V710.82M283.55,665.00V714.09M285.73,674.82V705.36M287.91,675.91V703.18M290.09,665.00V709.73M292.27,667.18V708.64M294.45,677.00V699.91M296.91,663.91V707.55M298.82,662.82V713.00M300.45,663.91V714.09M302.64,674.82V704.27M304.82,673.73V704.27M306.45,665.00V711.91M308.91,663.91V714.09M311.36,672.64V705.36M313.55,670.45V705.36M315.18,662.82V714.09M317.36,661.73V714.09M319.55,672.64V705.36M321.73,680.27V696.64M323.91,666.09V707.55M325.55,655.18V718.45M327.18,658.45V719.55M329.36,670.45V703.18M331.55,681.36V694.45M333.73,665.00V714.09M336.45,656.27V717.36M338.64,665.00V714.09M340.82,677.00V701.00M343.00,674.82V704.27M344.91,662.82V714.09M347.36,667.18V708.64M349.00,674.82V703.18M351.18,673.73V704.27M353.09,663.91V711.91M355.00,660.64V713.00M357.18,669.36V705.36M358.82,672.64V701.00M361.00,669.36V706.45M363.18,659.55V715.18M365.36,657.36V717.36M367.55,667.18V711.91M369.73,674.82V702.09M371.91,670.45V708.64M374.09,661.73V714.09M375.73,658.45V716.27M377.91,662.82V714.09M380.09,673.73V705.36M382.27,677.00V699.91M384.45,669.36V705.36M386.64,661.73V714.09M388.82,662.82V715.18M391.00,674.82V706.45M393.18,685.73V692.27M394.82,678.09V698.82M397.00,665.00V709.73M399.18,668.27V708.64M401.36,679.18V698.82M403.55,682.45V694.45M405.73,674.82V702.09M407.91,671.55V704.27M409.55,677.00V701.00M411.73,683.55V694.45M413.91,680.27V698.82M415.55,672.64V701.00M417.18,671.55V704.27M418.82,673.73V696.64M420.45,682.45V693.36M422.64,677.00V702.09M424.82,666.09V711.91M427.00,662.82V709.73M429.18,673.73V704.27M431.91,669.36V707.55M434.64,659.55V716.27M436.82,663.91V711.91M439.00,674.82V703.18M441.18,674.82V702.09M442.82,668.27V706.45M445.00,669.36V708.64M447.18,672.64V703.18M449.36,670.45V704.27M451.55,668.27V707.55M453.73,674.82V702.09M455.91,681.36V695.55M458.09,678.09V698.82M459.73,668.27V708.64M461.91,668.27V709.73M464.09,679.18V699.91M466.27,683.55V694.45M467.91,674.82V701.00M470.09,668.27V706.45M472.27,674.82V704.27M474.45,681.36V697.73M476.91,683.55V696.64M478.82,673.73V703.18M481.00,675.91V698.82M483.18,680.27V694.45M485.36,681.36V693.36M487.55,678.09V696.64M489.73,679.18V695.55M491.91,681.36V693.36M494.09,678.09V697.73M496.27,677.00V698.82M498.45,678.09V696.64M500.64,682.45V692.27M502.82,683.55V692.27M505.00,678.09V696.64M507.18,673.73V701.00M508.82,675.91V701.00M510.45,681.36V694.45M512.64,683.55V693.36M514.82,679.18V697.73M517.00,673.73V702.09M518.64,674.82V701.00M520.82,678.09V696.64M522.45,679.18V695.55M523.82,681.36V694.45" stroke="#dc0c0c" stroke-width="1.5" fill="none"/>
<text x="291" y="766.10" font-size="16.0" text-anchor="middle" fill="#262626" class="s">Data poit</text>
<text transform="translate(24.8,686.8) rotate(-90)" font-size="16.0" text-anchor="middle" fill="#262626" class="s">reconstructed series</text>
<path d="M104.50,784.0V863.0M151.50,784.0V863.0M197.50,784.0V863.0M244.50,784.0V863.0M290.50,784.0V863.0M337.50,784.0V863.0M384.50,784.0V863.0M430.50,784.0V863.0M477.50,784.0V863.0M523.50,784.0V863.0" stroke="#b4b4b4" stroke-width="1" fill="none"/>
<rect x="58.0" y="784.0" width="466.0" height="79.0" fill="none" stroke="#858585" stroke-width="2"/>
<text x="57.70" y="881.20" font-size="13.7" text-anchor="middle" fill="#262626" class="s">0</text>
<text x="104.30" y="881.20" font-size="13.7" text-anchor="middle" fill="#262626" class="s">1000</text>
<text x="150.90" y="881.20" font-size="13.7" text-anchor="middle" fill="#262626" class="s">2000</text>
<text x="197.50" y="881.20" font-size="13.7" text-anchor="middle" fill="#262626" class="s">3000</text>
<text x="244.10" y="881.20" font-size="13.7" text-anchor="middle" fill="#262626" class="s">4000</text>
<text x="290.70" y="881.20" font-size="13.7" text-anchor="middle" fill="#262626" class="s">5000</text>
<text x="337.30" y="881.20" font-size="13.7" text-anchor="middle" fill="#262626" class="s">6000</text>
<text x="383.90" y="881.20" font-size="13.7" text-anchor="middle" fill="#262626" class="s">7000</text>
<text x="430.50" y="881.20" font-size="13.7" text-anchor="middle" fill="#262626" class="s">8000</text>
<text x="477.10" y="881.20" font-size="13.7" text-anchor="middle" fill="#262626" class="s">9000</text>
<text x="505.2" y="881.20" font-size="13.7" fill="#262626" class="s" textLength="39.2" lengthAdjust="spacing">10000</text>
<text x="52.70" y="788.00" font-size="13.7" text-anchor="end" fill="#262626" class="s">10</text>
<text x="52.70" y="827.50" font-size="13.7" text-anchor="end" fill="#262626" class="s">0</text>
<text x="52.70" y="867.00" font-size="13.7" text-anchor="end" fill="#262626" class="s">-10</text>
<path d="M57.50,863.0V858.2M57.50,784.0V788.8M104.50,863.0V858.2M104.50,784.0V788.8M151.50,863.0V858.2M151.50,784.0V788.8M197.50,863.0V858.2M197.50,784.0V788.8M244.50,863.0V858.2M244.50,784.0V788.8M290.50,863.0V858.2M290.50,784.0V788.8M337.50,863.0V858.2M337.50,784.0V788.8M384.50,863.0V858.2M384.50,784.0V788.8M430.50,863.0V858.2M430.50,784.0V788.8M477.50,863.0V858.2M477.50,784.0V788.8M523.50,863.0V858.2M523.50,784.0V788.8M58.0,784.00H63.0M524.0,784.00H519.0M58.0,823.50H63.0M524.0,823.50H519.0M58.0,863.00H63.0M524.0,863.00H519.0" stroke="#3a3a3a" stroke-width="1" fill="none"/>
<path d="M58.60,794.55 L59.12,794.55 L59.64,820.50 L60.15,794.55 L60.75,794.55 L61.27,820.50 L61.79,809.82 L62.39,809.82 L62.91,820.50 L63.43,805.45 L64.03,805.45 L64.55,820.73 L65.06,820.73 L65.66,820.73 L66.45,820.73 L67.25,814.18 L67.85,814.18 L68.36,820.50 L68.88,815.27 L69.48,815.27 L70.27,820.50 L71.06,816.36 L71.66,816.36 L72.18,820.50 L72.70,814.18 L73.30,814.18 L74.09,820.50 L74.88,819.64 L75.48,819.64 L76.27,820.50 L77.06,808.73 L77.66,808.73 L78.18,820.73 L78.70,820.73 L79.30,820.73 L79.82,820.73 L80.34,802.18 L80.94,802.18 L81.45,820.50 L81.97,801.09 L82.57,801.09 L83.36,820.50 L84.15,819.64 L84.75,819.64 L85.55,820.50 L86.34,817.45 L86.94,817.45 L87.45,820.50 L87.97,812.00 L88.57,812.00 L89.36,820.50 L90.15,810.91 L90.75,810.91 L91.27,820.50 L91.79,818.55 L92.39,818.55 L92.91,820.50 L93.43,802.18 L94.03,802.18 L94.82,820.50 L95.61,809.82 L96.21,809.82 L97.00,820.50 L97.79,807.64 L98.39,807.64 L98.91,820.50 L99.43,816.36 L100.03,816.36 L100.82,820.50 L101.61,815.27 L102.21,815.27 L102.73,820.50 L103.25,817.45 L103.85,817.45 L104.64,820.50 L105.43,815.27 L106.03,815.27 L106.55,820.50 L107.06,812.00 L107.66,812.00 L108.73,820.50 L109.79,818.55 L110.39,818.55 L111.18,820.50 L111.97,808.73 L112.57,808.73 L113.36,820.50 L114.15,812.00 L114.75,812.00 L115.68,820.50 L116.61,816.36 L117.21,816.36 L117.86,820.50 L118.52,813.09 L119.12,813.09 L119.64,820.50 L120.15,813.09 L120.75,813.09 L121.55,820.50 L122.34,813.09 L122.94,813.09 L123.73,820.50 L124.52,819.64 L125.12,819.64 L125.64,820.50 L126.15,814.18 L126.75,814.18 L127.55,820.50 L128.34,817.45 L128.94,817.45 L129.45,820.50 L129.97,813.09 L130.57,813.09 L131.64,820.50 L132.70,815.27 L133.30,815.27 L133.82,820.50 L134.34,813.09 L134.94,813.09 L135.45,820.50 L135.97,807.64 L136.57,807.64 L137.09,820.50 L137.61,808.73 L138.21,808.73 L139.00,820.50 L139.79,807.64 L140.39,807.64 L140.91,820.50 L141.43,818.55 L142.03,818.55 L142.82,820.50 L143.61,812.00 L144.21,812.00 L144.73,820.50 L145.25,819.64 L145.85,819.64 L146.64,820.50 L147.43,812.00 L148.03,812.00 L148.82,820.50 L149.61,813.09 L150.21,813.09 L151.00,820.50 L151.79,809.82 L152.39,809.82 L152.91,820.50 L153.43,816.36 L154.03,816.36 L154.82,820.73 L155.61,820.73 L156.21,820.73 L156.73,820.73 L157.25,809.82 L157.85,809.82 L158.36,820.50 L158.88,806.55 L159.48,806.55 L160.00,820.50 L160.52,801.09 L161.12,801.09 L161.64,820.50 L162.15,816.36 L162.75,816.36 L163.55,820.50 L164.34,809.82 L164.94,809.82 L165.45,820.50 L165.97,814.18 L166.57,814.18 L167.36,820.50 L168.15,803.27 L168.75,803.27 L169.27,820.50 L169.79,809.82 L170.39,809.82 L171.18,820.50 L171.97,816.36 L172.57,816.36 L173.09,820.50 L173.61,804.36 L174.21,804.36 L174.73,820.50 L175.25,812.00 L175.85,812.00 L176.36,820.50 L176.88,809.82 L177.48,809.82 L178.00,820.50 L178.52,806.55 L179.12,806.55 L179.64,820.50 L180.15,807.64 L180.75,807.64 L181.55,820.50 L182.34,815.27 L182.94,815.27 L184.00,820.50 L185.06,801.09 L185.66,801.09 L186.18,820.50 L186.70,813.09 L187.30,813.09 L188.36,820.73 L189.43,820.73 L190.03,820.73 L190.27,820.73 L190.52,802.18 L191.12,802.18 L191.91,820.50 L192.70,808.73 L193.30,808.73 L193.82,820.50 L194.34,816.36 L194.94,816.36 L195.45,820.50 L195.97,818.55 L196.57,818.55 L197.36,820.50 L198.15,816.36 L198.75,816.36 L199.55,820.50 L200.34,818.55 L200.94,818.55 L201.45,820.50 L201.97,804.36 L202.57,804.36 L203.09,820.50 L203.61,813.09 L204.21,813.09 L205.00,820.50 L205.79,807.64 L206.39,807.64 L206.91,820.73 L207.43,820.73 L208.03,820.73 L208.55,820.73 L209.06,813.09 L209.66,813.09 L210.45,820.50 L211.25,816.36 L211.85,816.36 L212.64,820.50 L213.43,818.55 L214.03,818.55 L214.82,820.50 L215.61,818.55 L216.21,818.55 L217.00,820.50 L217.79,816.36 L218.39,816.36 L218.91,820.50 L219.43,817.45 L220.03,817.45 L220.82,820.50 L221.61,818.55 L222.21,818.55 L223.00,820.50 L223.79,817.45 L224.39,817.45 L224.91,820.50 L225.43,816.36 L226.03,816.36 L226.55,820.50 L227.06,814.18 L227.66,814.18 L228.45,820.50 L229.25,818.55 L229.85,818.55 L230.91,820.50 L231.97,816.36 L232.57,816.36 L233.09,820.50 L233.61,806.55 L234.21,806.55 L234.73,820.50 L235.25,798.91 L235.85,798.91 L236.36,820.50 L236.88,809.82 L237.48,809.82 L238.00,820.50 L238.52,812.00 L239.12,812.00 L239.64,820.50 L240.15,809.82 L240.75,809.82 L241.27,820.50 L241.79,813.09 L242.39,813.09 L243.45,820.50 L244.52,801.09 L245.12,801.09 L245.64,820.50 L246.15,816.36 L246.75,816.36 L247.55,820.50 L248.34,814.18 L248.94,814.18 L249.73,820.50 L250.52,818.55 L251.12,818.55 L251.64,820.50 L252.15,816.36 L252.75,816.36 L253.55,820.50 L254.34,818.55 L254.94,818.55 L256.00,820.50 L257.06,816.36 L257.66,816.36 L258.18,820.50 L258.70,814.18 L259.30,814.18 L260.09,820.50 L260.88,810.91 L261.48,810.91 L262.00,820.50 L262.52,818.55 L263.12,818.55 L263.91,820.50 L264.70,818.55 L265.30,818.55 L266.09,820.50 L266.88,819.64 L267.48,819.64 L268.27,820.50 L269.06,812.00 L269.66,812.00 L270.18,820.50 L270.70,810.91 L271.30,810.91 L271.82,820.50 L272.34,819.64 L272.94,819.64 L273.73,820.50 L274.52,813.09 L275.12,813.09 L275.64,820.50 L276.15,808.73 L276.75,808.73 L277.55,820.50 L278.34,808.73 L278.94,808.73 L279.73,820.50 L280.52,816.36 L281.12,816.36 L281.36,820.50 L281.61,816.36 L282.21,816.36 L283.55,820.50 L284.88,815.27 L285.48,815.27 L286.00,820.50 L286.52,806.55 L287.12,806.55 L287.64,820.50 L288.15,818.55 L288.75,818.55 L289.27,820.50 L289.79,808.73 L290.39,808.73 L291.18,820.50 L291.97,819.64 L292.57,819.64 L293.36,820.50 L294.15,815.27 L294.75,815.27 L295.68,820.50 L296.61,810.91 L297.21,810.91 L297.86,820.50 L298.52,813.09 L299.12,813.09 L299.91,820.50 L300.70,817.45 L301.30,817.45 L302.64,820.50 L303.97,815.27 L304.57,815.27 L305.36,820.50 L306.15,817.45 L306.75,817.45 L307.55,820.50 L308.34,818.55 L308.94,818.55 L310.00,820.50 L311.06,818.55 L311.66,818.55 L312.73,820.50 L313.79,816.36 L314.39,816.36 L314.91,820.50 L315.43,810.91 L316.03,810.91 L317.09,820.50 L318.15,818.55 L318.75,818.55 L319.55,820.50 L320.34,815.27 L320.94,815.27 L321.45,820.50 L321.97,816.36 L322.57,816.36 L323.64,820.50 L324.70,814.18 L325.30,814.18 L326.09,820.50 L326.88,813.09 L327.48,813.09 L328.27,820.50 L329.06,810.91 L329.66,810.91 L330.45,820.50 L331.25,813.09 L331.85,813.09 L332.64,820.50 L333.43,809.82 L334.03,809.82 L334.55,820.50 L335.06,815.27 L335.66,815.27 L336.18,820.50 L336.70,810.91 L337.30,810.91 L338.36,820.50 L339.43,812.00 L340.03,812.00 L340.82,820.50 L341.61,808.73 L342.21,808.73 L343.00,820.50 L343.79,818.55 L344.39,818.55 L344.91,820.50 L345.43,807.64 L346.03,807.64 L346.55,820.50 L347.06,813.09 L347.66,813.09 L348.45,820.50 L349.25,814.18 L349.85,814.18 L350.64,820.50 L351.43,817.45 L352.03,817.45 L352.82,820.50 L353.61,805.45 L354.21,805.45 L354.73,820.50 L355.25,814.18 L355.85,814.18 L356.36,820.50 L356.88,819.64 L357.48,819.64 L358.00,820.50 L358.52,816.36 L359.12,816.36 L359.91,820.50 L360.70,815.27 L361.30,815.27 L362.09,820.50 L362.88,810.91 L363.48,810.91 L364.27,820.50 L365.06,818.55 L365.66,818.55 L366.45,820.50 L367.25,812.00 L367.85,812.00 L368.36,820.50 L368.88,816.36 L369.48,816.36 L370.00,820.50 L370.52,804.36 L371.12,804.36 L372.18,820.50 L373.25,806.55 L373.85,806.55 L374.64,820.50 L375.43,817.45 L376.03,817.45 L377.09,820.50 L378.15,817.45 L378.75,817.45 L379.55,820.50 L380.34,814.18 L380.94,814.18 L381.73,820.50 L382.52,818.55 L383.12,818.55 L384.45,820.50 L385.79,817.45 L386.39,817.45 L387.18,820.50 L387.97,813.09 L388.57,813.09 L389.36,820.50 L390.15,804.36 L390.75,804.36 L391.55,820.50 L392.34,809.82 L392.94,809.82 L393.73,820.73 L394.52,820.73 L395.12,820.73 L395.91,820.73 L396.70,818.55 L397.30,818.55 L398.09,820.50 L398.88,815.27 L399.48,815.27 L400.00,820.50 L400.52,814.18 L401.12,814.18 L402.18,820.50 L403.25,813.09 L403.85,813.09 L404.64,820.50 L405.43,817.45 L406.03,817.45 L406.82,820.50 L407.61,818.55 L408.21,818.55 L409.00,820.50 L409.79,819.64 L410.39,819.64 L411.18,820.50 L411.97,809.82 L412.57,809.82 L413.64,820.50 L414.70,812.00 L415.30,812.00 L415.95,820.50 L416.61,805.45 L417.21,805.45 L417.86,820.50 L418.52,808.73 L419.12,808.73 L419.91,820.50 L420.70,819.64 L421.30,819.64 L422.09,820.73 L422.88,820.73 L423.48,820.73 L424.27,820.73 L425.06,816.36 L425.66,816.36 L426.45,820.50 L427.25,819.64 L427.85,819.64 L428.36,820.50 L428.88,790.18 L429.48,790.18 L430.00,820.50 L430.52,815.27 L431.12,815.27 L431.91,820.50 L432.70,808.73 L433.30,808.73 L433.82,820.50 L434.34,818.55 L434.94,818.55 L435.73,820.50 L436.52,816.36 L437.12,816.36 L437.64,820.50 L438.15,807.64 L438.75,807.64 L439.55,820.50 L440.34,807.64 L440.94,807.64 L441.45,820.50 L441.97,807.64 L442.57,807.64 L443.36,820.50 L444.15,810.91 L444.75,810.91 L445.55,820.50 L446.34,816.36 L446.94,816.36 L447.73,820.50 L448.52,809.82 L449.12,809.82 L449.64,820.50 L450.15,813.09 L450.75,813.09 L451.55,820.50 L452.34,813.09 L452.94,813.09 L453.45,820.50 L453.97,815.27 L454.57,815.27 L455.36,820.50 L456.15,813.09 L456.75,813.09 L457.55,820.50 L458.34,810.91 L458.94,810.91 L459.45,820.50 L459.97,813.09 L460.57,813.09 L461.36,820.50 L462.15,814.18 L462.75,814.18 L463.27,820.50 L463.79,813.09 L464.39,813.09 L464.91,820.50 L465.43,817.45 L466.03,817.45 L466.82,820.50 L467.61,817.45 L468.21,817.45 L469.00,820.50 L469.79,817.45 L470.39,817.45 L471.18,820.50 L471.97,816.36 L472.57,816.36 L473.64,820.50 L474.70,803.27 L475.30,803.27 L475.95,820.50 L476.61,809.82 L477.21,809.82 L477.86,820.50 L478.52,806.55 L479.12,806.55 L479.91,820.50 L480.70,818.55 L481.30,818.55 L482.09,820.50 L482.88,818.55 L483.48,818.55 L484.27,820.50 L485.06,809.82 L485.66,809.82 L486.45,820.50 L487.25,816.36 L487.85,816.36 L489.18,820.50 L490.52,813.09 L491.12,813.09 L491.91,820.50 L492.70,817.45 L493.30,817.45 L494.09,820.50 L494.88,819.64 L495.48,819.64 L496.27,820.50 L497.06,814.18 L497.66,814.18 L498.18,820.50 L498.70,813.09 L499.30,813.09 L499.82,820.50 L500.34,804.36 L500.94,804.36 L501.73,820.50 L502.52,810.91 L503.12,810.91 L503.91,820.50 L504.70,798.91 L505.30,798.91 L506.09,820.50 L506.88,814.18 L507.48,814.18 L508.00,820.50 L508.52,801.09 L509.12,801.09 L509.64,820.50 L510.15,814.18 L510.75,814.18 L511.55,820.50 L512.34,816.36 L512.94,816.36 L513.73,820.50 L514.52,806.55 L515.12,806.55 L515.91,820.50 L516.70,801.09 L517.30,801.09 L518.09,820.50 L518.88,816.36 L519.48,816.36 L520.27,820.50 L521.06,812.00 L521.66,812.00 L522.18,820.50 L522.70,807.64 L523.30,807.64 L523.30,836.00 L522.70,836.00 L522.18,826.50 L521.66,831.64 L521.06,831.64 L520.27,826.50 L519.48,838.18 L518.88,838.18 L518.09,826.50 L517.30,834.91 L516.70,834.91 L515.91,826.50 L515.12,846.91 L514.52,846.91 L513.73,826.50 L512.94,832.73 L512.34,832.73 L511.55,826.50 L510.75,833.82 L510.15,833.82 L509.64,826.50 L509.12,838.18 L508.52,838.18 L508.00,826.50 L507.48,851.27 L506.88,851.27 L506.09,826.50 L505.30,836.00 L504.70,836.00 L503.91,826.50 L503.12,833.82 L502.52,833.82 L501.73,826.50 L500.94,840.36 L500.34,840.36 L499.82,826.50 L499.30,841.45 L498.70,841.45 L498.18,826.50 L497.66,830.55 L497.06,830.55 L496.27,826.50 L495.48,827.27 L494.88,827.27 L494.09,826.50 L493.30,829.45 L492.70,829.45 L491.91,826.50 L491.12,833.82 L490.52,833.82 L489.18,826.50 L487.85,831.64 L487.25,831.64 L486.45,826.50 L485.66,833.82 L485.06,833.82 L484.27,826.50 L483.48,832.73 L482.88,832.73 L482.09,826.50 L481.30,831.64 L480.70,831.64 L479.91,826.50 L479.12,837.09 L478.52,837.09 L477.86,826.50 L477.21,833.82 L476.61,833.82 L475.95,826.50 L475.30,838.18 L474.70,838.18 L473.64,826.50 L472.57,828.36 L471.97,828.36 L471.18,826.50 L470.39,830.55 L469.79,830.55 L469.00,826.50 L468.21,831.64 L467.61,831.64 L466.82,826.50 L466.03,829.45 L465.43,829.45 L464.91,826.50 L464.39,836.00 L463.79,836.00 L463.27,826.50 L462.75,832.73 L462.15,832.73 L461.36,826.50 L460.57,838.18 L459.97,838.18 L459.45,826.50 L458.94,831.64 L458.34,831.64 L457.55,826.50 L456.75,836.00 L456.15,836.00 L455.36,826.50 L454.57,829.45 L453.97,829.45 L453.45,826.50 L452.94,833.82 L452.34,833.82 L451.55,826.50 L450.75,831.64 L450.15,831.64 L449.64,826.50 L449.12,836.00 L448.52,836.00 L447.73,826.50 L446.94,833.82 L446.34,833.82 L445.55,826.50 L444.75,836.00 L444.15,836.00 L443.36,826.50 L442.57,839.27 L441.97,839.27 L441.45,826.50 L440.94,831.64 L440.34,831.64 L439.55,826.50 L438.75,837.09 L438.15,837.09 L437.64,826.50 L437.12,836.00 L436.52,836.00 L435.73,826.50 L434.94,828.36 L434.34,828.36 L433.82,826.50 L433.30,831.64 L432.70,831.64 L431.91,826.50 L431.12,842.55 L430.52,842.55 L430.00,826.50 L429.48,829.45 L428.88,829.45 L428.36,826.50 L427.85,845.82 L427.25,845.82 L426.45,826.18 L425.66,826.18 L425.06,826.18 L424.27,826.18 L423.48,827.27 L422.88,827.27 L422.09,826.50 L421.30,827.27 L420.70,827.27 L419.91,826.50 L419.12,840.36 L418.52,840.36 L417.86,826.50 L417.21,840.36 L416.61,840.36 L415.95,826.50 L415.30,833.82 L414.70,833.82 L413.64,826.50 L412.57,837.09 L411.97,837.09 L411.18,826.50 L410.39,829.45 L409.79,829.45 L409.00,826.50 L408.21,828.36 L407.61,828.36 L406.82,826.50 L406.03,830.55 L405.43,830.55 L404.64,826.50 L403.85,832.73 L403.25,832.73 L402.18,826.50 L401.12,831.64 L400.52,831.64 L400.00,826.50 L399.48,833.82 L398.88,833.82 L398.09,826.50 L397.30,827.27 L396.70,827.27 L395.91,826.50 L395.12,828.36 L394.52,828.36 L393.73,826.50 L392.94,838.18 L392.34,838.18 L391.55,826.50 L390.75,842.55 L390.15,842.55 L389.36,826.50 L388.57,836.00 L387.97,836.00 L387.18,826.50 L386.39,828.36 L385.79,828.36 L384.45,826.50 L383.12,829.45 L382.52,829.45 L381.73,826.50 L380.94,832.73 L380.34,832.73 L379.55,826.50 L378.75,827.27 L378.15,827.27 L377.09,826.50 L376.03,832.73 L375.43,832.73 L374.64,826.50 L373.85,833.82 L373.25,833.82 L372.18,826.50 L371.12,840.36 L370.52,840.36 L370.00,826.50 L369.48,829.45 L368.88,829.45 L368.36,826.50 L367.85,832.73 L367.25,832.73 L366.45,826.50 L365.66,831.64 L365.06,831.64 L364.27,826.50 L363.48,830.55 L362.88,830.55 L362.09,826.50 L361.30,831.64 L360.70,831.64 L359.91,826.50 L359.12,829.45 L358.52,829.45 L358.00,826.18 L357.48,826.18 L356.88,826.18 L356.36,826.18 L355.85,828.36 L355.25,828.36 L354.73,826.50 L354.21,837.09 L353.61,837.09 L352.82,826.50 L352.03,830.55 L351.43,830.55 L350.64,826.50 L349.85,827.27 L349.25,827.27 L348.45,826.50 L347.66,831.64 L347.06,831.64 L346.55,826.50 L346.03,832.73 L345.43,832.73 L344.91,826.50 L344.39,829.45 L343.79,829.45 L343.00,826.50 L342.21,831.64 L341.61,831.64 L340.82,826.50 L340.03,846.91 L339.43,846.91 L338.36,826.50 L337.30,831.64 L336.70,831.64 L336.18,826.50 L335.66,841.45 L335.06,841.45 L334.55,826.50 L334.03,830.55 L333.43,830.55 L332.64,826.50 L331.85,829.45 L331.25,829.45 L330.45,826.50 L329.66,831.64 L329.06,831.64 L328.27,826.50 L327.48,837.09 L326.88,837.09 L326.09,826.18 L325.30,826.18 L324.70,826.18 L323.64,826.18 L322.57,831.64 L321.97,831.64 L321.45,826.50 L320.94,829.45 L320.34,829.45 L319.55,826.50 L318.75,829.45 L318.15,829.45 L317.09,826.18 L316.03,826.18 L315.43,826.18 L314.91,826.18 L314.39,839.27 L313.79,839.27 L312.73,826.50 L311.66,827.27 L311.06,827.27 L310.00,826.50 L308.94,831.64 L308.34,831.64 L307.55,826.50 L306.75,827.27 L306.15,827.27 L305.36,826.50 L304.57,833.82 L303.97,833.82 L302.64,826.50 L301.30,827.27 L300.70,827.27 L299.91,826.50 L299.12,828.36 L298.52,828.36 L297.86,826.50 L297.21,836.00 L296.61,836.00 L295.68,826.50 L294.75,827.27 L294.15,827.27 L293.36,826.50 L292.57,831.64 L291.97,831.64 L291.18,826.50 L290.39,830.55 L289.79,830.55 L289.27,826.50 L288.75,828.36 L288.15,828.36 L287.64,826.50 L287.12,827.27 L286.52,827.27 L286.00,826.50 L285.48,834.91 L284.88,834.91 L283.55,826.50 L282.21,831.64 L281.61,831.64 L281.36,826.50 L281.12,828.36 L280.52,828.36 L279.73,826.50 L278.94,829.45 L278.34,829.45 L277.55,826.50 L276.75,846.91 L276.15,846.91 L275.64,826.18 L275.12,826.18 L274.52,826.18 L273.73,826.18 L272.94,829.45 L272.34,829.45 L271.82,826.50 L271.30,836.00 L270.70,836.00 L270.18,826.50 L269.66,831.64 L269.06,831.64 L268.27,826.50 L267.48,829.45 L266.88,829.45 L266.09,826.50 L265.30,829.45 L264.70,829.45 L263.91,826.50 L263.12,836.00 L262.52,836.00 L262.00,826.50 L261.48,834.91 L260.88,834.91 L260.09,826.50 L259.30,838.18 L258.70,838.18 L258.18,826.50 L257.66,829.45 L257.06,829.45 L256.00,826.50 L254.94,831.64 L254.34,831.64 L253.55,826.18 L252.75,826.18 L252.15,826.18 L251.64,826.18 L251.12,832.73 L250.52,832.73 L249.73,826.50 L248.94,828.36 L248.34,828.36 L247.55,826.50 L246.75,844.73 L246.15,844.73 L245.64,826.50 L245.12,831.64 L244.52,831.64 L243.45,826.50 L242.39,838.18 L241.79,838.18 L241.27,826.50 L240.75,836.00 L240.15,836.00 L239.64,826.50 L239.12,843.64 L238.52,843.64 L238.00,826.50 L237.48,833.82 L236.88,833.82 L236.36,826.50 L235.85,843.64 L235.25,843.64 L234.73,826.50 L234.21,848.00 L233.61,848.00 L233.09,826.50 L232.57,830.55 L231.97,830.55 L230.91,826.50 L229.85,829.45 L229.25,829.45 L228.45,826.50 L227.66,828.36 L227.06,828.36 L226.55,826.50 L226.03,833.82 L225.43,833.82 L224.91,826.50 L224.39,829.45 L223.79,829.45 L223.00,826.50 L222.21,834.91 L221.61,834.91 L220.82,826.50 L220.03,833.82 L219.43,833.82 L218.91,826.50 L218.39,836.00 L217.79,836.00 L217.00,826.50 L216.21,829.45 L215.61,829.45 L214.82,826.50 L214.03,832.73 L213.43,832.73 L212.64,826.18 L211.85,826.18 L211.25,826.18 L210.45,826.18 L209.66,833.82 L209.06,833.82 L208.55,826.50 L208.03,827.27 L207.43,827.27 L206.91,826.50 L206.39,833.82 L205.79,833.82 L205.00,826.50 L204.21,846.91 L203.61,846.91 L203.09,826.50 L202.57,833.82 L201.97,833.82 L201.45,826.50 L200.94,836.00 L200.34,836.00 L199.55,826.50 L198.75,827.27 L198.15,827.27 L197.36,826.50 L196.57,831.64 L195.97,831.64 L195.45,826.50 L194.94,831.64 L194.34,831.64 L193.82,826.50 L193.30,836.00 L192.70,836.00 L191.91,826.50 L191.12,841.45 L190.52,841.45 L190.27,826.50 L190.03,833.82 L189.43,833.82 L188.36,826.50 L187.30,848.00 L186.70,848.00 L186.18,826.50 L185.66,834.91 L185.06,834.91 L184.00,826.50 L182.94,837.09 L182.34,837.09 L181.55,826.50 L180.75,846.91 L180.15,846.91 L179.64,826.50 L179.12,833.82 L178.52,833.82 L178.00,826.50 L177.48,833.82 L176.88,833.82 L176.36,826.50 L175.85,846.91 L175.25,846.91 L174.73,826.50 L174.21,844.73 L173.61,844.73 L173.09,826.50 L172.57,834.91 L171.97,834.91 L171.18,826.50 L170.39,837.09 L169.79,837.09 L169.27,826.50 L168.75,842.55 L168.15,842.55 L167.36,826.50 L166.57,840.36 L165.97,840.36 L165.45,826.50 L164.94,831.64 L164.34,831.64 L163.55,826.50 L162.75,845.82 L162.15,845.82 L161.64,826.50 L161.12,831.64 L160.52,831.64 L160.00,826.50 L159.48,844.73 L158.88,844.73 L158.36,826.50 L157.85,834.91 L157.25,834.91 L156.73,826.50 L156.21,830.55 L155.61,830.55 L154.82,826.50 L154.03,829.45 L153.43,829.45 L152.91,826.50 L152.39,833.82 L151.79,833.82 L151.00,826.50 L150.21,837.09 L149.61,837.09 L148.82,826.50 L148.03,832.73 L147.43,832.73 L146.64,826.50 L145.85,837.09 L145.25,837.09 L144.73,826.50 L144.21,828.36 L143.61,828.36 L142.82,826.50 L142.03,834.91 L141.43,834.91 L140.91,826.50 L140.39,831.64 L139.79,831.64 L139.00,826.50 L138.21,845.82 L137.61,845.82 L137.09,826.50 L136.57,829.45 L135.97,829.45 L135.45,826.50 L134.94,836.00 L134.34,836.00 L133.82,826.50 L133.30,833.82 L132.70,833.82 L131.64,826.50 L130.57,828.36 L129.97,828.36 L129.45,826.50 L128.94,830.55 L128.34,830.55 L127.55,826.50 L126.75,832.73 L126.15,832.73 L125.64,826.50 L125.12,828.36 L124.52,828.36 L123.73,826.50 L122.94,829.45 L122.34,829.45 L121.55,826.50 L120.75,839.27 L120.15,839.27 L119.64,826.50 L119.12,831.64 L118.52,831.64 L117.86,826.50 L117.21,828.36 L116.61,828.36 L115.68,826.50 L114.75,831.64 L114.15,831.64 L113.36,826.50 L112.57,834.91 L111.97,834.91 L111.18,826.50 L110.39,828.36 L109.79,828.36 L108.73,826.50 L107.66,829.45 L107.06,829.45 L106.55,826.50 L106.03,829.45 L105.43,829.45 L104.64,826.50 L103.85,828.36 L103.25,828.36 L102.73,826.18 L102.21,826.18 L101.61,826.18 L100.82,826.18 L100.03,831.64 L99.43,831.64 L98.91,826.50 L98.39,829.45 L97.79,829.45 L97.00,826.50 L96.21,837.09 L95.61,837.09 L94.82,826.50 L94.03,831.64 L93.43,831.64 L92.91,826.50 L92.39,838.18 L91.79,838.18 L91.27,826.50 L90.75,829.45 L90.15,829.45 L89.36,826.50 L88.57,834.91 L87.97,834.91 L87.45,826.50 L86.94,838.18 L86.34,838.18 L85.55,826.18 L84.75,826.18 L84.15,826.18 L83.36,826.18 L82.57,827.27 L81.97,827.27 L81.45,826.50 L80.94,831.64 L80.34,831.64 L79.82,826.50 L79.30,840.36 L78.70,840.36 L78.18,826.50 L77.66,836.00 L77.06,836.00 L76.27,826.50 L75.48,833.82 L74.88,833.82 L74.09,826.50 L73.30,828.36 L72.70,828.36 L72.18,826.50 L71.66,828.36 L71.06,828.36 L70.27,826.50 L69.48,829.45 L68.88,829.45 L68.36,826.50 L67.85,828.36 L67.25,828.36 L66.45,826.50 L65.66,828.36 L65.06,828.36 L64.55,826.50 L64.03,829.45 L63.43,829.45 L62.91,826.50 L62.39,849.09 L61.79,849.09 L61.27,826.50 L60.75,831.64 L60.15,831.64 L59.64,826.50 L59.12,840.36 L58.60,840.36Z" fill="#00ff00"/><path d="M58.82,794.55V840.36M60.45,794.55V831.64M62.09,809.82V849.09M63.73,805.45V829.45M65.36,820.73V828.36M67.55,814.18V828.36M69.18,815.27V829.45M71.36,816.36V828.36M73.00,814.18V828.36M75.18,819.64V833.82M77.36,808.73V836.00M79.00,820.73V840.36M80.64,802.18V831.64M82.27,801.09V827.27M84.45,819.64V826.18M86.64,817.45V838.18M88.27,812.00V834.91M90.45,810.91V829.45M92.09,818.55V838.18M93.73,802.18V831.64M95.91,809.82V837.09M98.09,807.64V829.45M99.73,816.36V831.64M101.91,815.27V826.18M103.55,817.45V828.36M105.73,815.27V829.45M107.36,812.00V829.45M110.09,818.55V828.36M112.27,808.73V834.91M114.45,812.00V831.64M116.91,816.36V828.36M118.82,813.09V831.64M120.45,813.09V839.27M122.64,813.09V829.45M124.82,819.64V828.36M126.45,814.18V832.73M128.64,817.45V830.55M130.27,813.09V828.36M133.00,815.27V833.82M134.64,813.09V836.00M136.27,807.64V829.45M137.91,808.73V845.82M140.09,807.64V831.64M141.73,818.55V834.91M143.91,812.00V828.36M145.55,819.64V837.09M147.73,812.00V832.73M149.91,813.09V837.09M152.09,809.82V833.82M153.73,816.36V829.45M155.91,820.73V830.55M157.55,809.82V834.91M159.18,806.55V844.73M160.82,801.09V831.64M162.45,816.36V845.82M164.64,809.82V831.64M166.27,814.18V840.36M168.45,803.27V842.55M170.09,809.82V837.09M172.27,816.36V834.91M173.91,804.36V844.73M175.55,812.00V846.91M177.18,809.82V833.82M178.82,806.55V833.82M180.45,807.64V846.91M182.64,815.27V837.09M185.36,801.09V834.91M187.00,813.09V848.00M189.73,820.73V833.82M190.82,802.18V841.45M193.00,808.73V836.00M194.64,816.36V831.64M196.27,818.55V831.64M198.45,816.36V827.27M200.64,818.55V836.00M202.27,804.36V833.82M203.91,813.09V846.91M206.09,807.64V833.82M207.73,820.73V827.27M209.36,813.09V833.82M211.55,816.36V826.18M213.73,818.55V832.73M215.91,818.55V829.45M218.09,816.36V836.00M219.73,817.45V833.82M221.91,818.55V834.91M224.09,817.45V829.45M225.73,816.36V833.82M227.36,814.18V828.36M229.55,818.55V829.45M232.27,816.36V830.55M233.91,806.55V848.00M235.55,798.91V843.64M237.18,809.82V833.82M238.82,812.00V843.64M240.45,809.82V836.00M242.09,813.09V838.18M244.82,801.09V831.64M246.45,816.36V844.73M248.64,814.18V828.36M250.82,818.55V832.73M252.45,816.36V826.18M254.64,818.55V831.64M257.36,816.36V829.45M259.00,814.18V838.18M261.18,810.91V834.91M262.82,818.55V836.00M265.00,818.55V829.45M267.18,819.64V829.45M269.36,812.00V831.64M271.00,810.91V836.00M272.64,819.64V829.45M274.82,813.09V826.18M276.45,808.73V846.91M278.64,808.73V829.45M280.82,816.36V828.36M281.91,816.36V831.64M285.18,815.27V834.91M286.82,806.55V827.27M288.45,818.55V828.36M290.09,808.73V830.55M292.27,819.64V831.64M294.45,815.27V827.27M296.91,810.91V836.00M298.82,813.09V828.36M301.00,817.45V827.27M304.27,815.27V833.82M306.45,817.45V827.27M308.64,818.55V831.64M311.36,818.55V827.27M314.09,816.36V839.27M315.73,810.91V826.18M318.45,818.55V829.45M320.64,815.27V829.45M322.27,816.36V831.64M325.00,814.18V826.18M327.18,813.09V837.09M329.36,810.91V831.64M331.55,813.09V829.45M333.73,809.82V830.55M335.36,815.27V841.45M337.00,810.91V831.64M339.73,812.00V846.91M341.91,808.73V831.64M344.09,818.55V829.45M345.73,807.64V832.73M347.36,813.09V831.64M349.55,814.18V827.27M351.73,817.45V830.55M353.91,805.45V837.09M355.55,814.18V828.36M357.18,819.64V826.18M358.82,816.36V829.45M361.00,815.27V831.64M363.18,810.91V830.55M365.36,818.55V831.64M367.55,812.00V832.73M369.18,816.36V829.45M370.82,804.36V840.36M373.55,806.55V833.82M375.73,817.45V832.73M378.45,817.45V827.27M380.64,814.18V832.73M382.82,818.55V829.45M386.09,817.45V828.36M388.27,813.09V836.00M390.45,804.36V842.55M392.64,809.82V838.18M394.82,820.73V828.36M397.00,818.55V827.27M399.18,815.27V833.82M400.82,814.18V831.64M403.55,813.09V832.73M405.73,817.45V830.55M407.91,818.55V828.36M410.09,819.64V829.45M412.27,809.82V837.09M415.00,812.00V833.82M416.91,805.45V840.36M418.82,808.73V840.36M421.00,819.64V827.27M423.18,820.73V827.27M425.36,816.36V826.18M427.55,819.64V845.82M429.18,790.18V829.45M430.82,815.27V842.55M433.00,808.73V831.64M434.64,818.55V828.36M436.82,816.36V836.00M438.45,807.64V837.09M440.64,807.64V831.64M442.27,807.64V839.27M444.45,810.91V836.00M446.64,816.36V833.82M448.82,809.82V836.00M450.45,813.09V831.64M452.64,813.09V833.82M454.27,815.27V829.45M456.45,813.09V836.00M458.64,810.91V831.64M460.27,813.09V838.18M462.45,814.18V832.73M464.09,813.09V836.00M465.73,817.45V829.45M467.91,817.45V831.64M470.09,817.45V830.55M472.27,816.36V828.36M475.00,803.27V838.18M476.91,809.82V833.82M478.82,806.55V837.09M481.00,818.55V831.64M483.18,818.55V832.73M485.36,809.82V833.82M487.55,816.36V831.64M490.82,813.09V833.82M493.00,817.45V829.45M495.18,819.64V827.27M497.36,814.18V830.55M499.00,813.09V841.45M500.64,804.36V840.36M502.82,810.91V833.82M505.00,798.91V836.00M507.18,814.18V851.27M508.82,801.09V838.18M510.45,814.18V833.82M512.64,816.36V832.73M514.82,806.55V846.91M517.00,801.09V834.91M519.18,816.36V838.18M521.36,812.00V831.64M523.00,807.64V836.00" stroke="#00e400" stroke-width="1.2" fill="none"/>
<text x="291" y="902.10" font-size="16.0" text-anchor="middle" fill="#262626" class="s">Data poit</text>
<text transform="translate(24.8,822.3) rotate(-90)" font-size="16.0" text-anchor="middle" fill="#262626" class="s">Residual series</text>
<text x="129" y="962.6" font-family="'Liberation Serif', 'Times New Roman', serif" font-size="23.5" fill="#000" class="c" textLength="296.5" lengthAdjust="spacingAndGlyphs">(<tspan font-weight="bold">b</tspan>) Waveform of SSA algorithm</text></svg></body></html>
